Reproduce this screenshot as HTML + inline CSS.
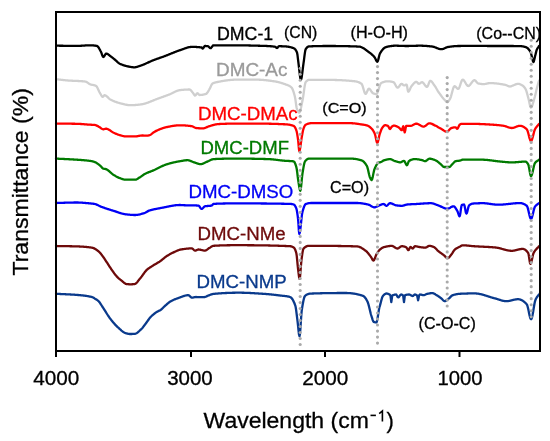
<!DOCTYPE html>
<html><head><meta charset="utf-8"><style>
html,body{margin:0;padding:0;background:#fff;width:550px;height:441px;overflow:hidden}
svg{display:block;will-change:transform;font-family:"Liberation Sans",sans-serif}
</style></head><body>
<svg width="550" height="441" viewBox="0 0 550 441">
<rect width="550" height="441" fill="#fff"/>
<polyline points="57.00,45.70 57.50,45.71 58.00,45.71 58.50,45.72 59.00,45.72 59.50,45.73 60.00,45.73 60.50,45.74 61.00,45.75 61.50,45.75 62.00,45.76 62.50,45.77 63.00,45.77 63.50,45.78 64.00,45.79 64.50,45.79 65.00,45.80 65.50,45.81 66.00,45.81 66.50,45.82 67.00,45.83 67.50,45.83 68.00,45.84 68.50,45.84 69.00,45.85 69.50,45.85 70.00,45.86 70.50,45.86 71.00,45.87 71.50,45.87 72.00,45.88 72.50,45.88 73.00,45.89 73.50,45.89 74.00,45.89 74.50,45.89 75.00,45.90 75.50,45.90 76.00,45.90 76.50,45.90 77.00,45.90 77.50,45.90 78.00,45.89 78.50,45.88 79.00,45.86 79.50,45.84 80.00,45.82 80.50,45.79 81.00,45.76 81.50,45.73 82.00,45.70 82.50,45.67 83.00,45.63 83.50,45.60 84.00,45.57 84.50,45.53 85.00,45.50 85.50,45.47 86.00,45.44 86.50,45.41 87.00,45.38 87.50,45.36 88.00,45.34 88.50,45.32 89.00,45.31 89.50,45.30 90.00,45.30 90.49,45.30 90.97,45.31 91.46,45.33 91.94,45.35 92.43,45.38 92.91,45.41 93.40,45.45 93.89,45.49 94.37,45.55 94.86,45.60 95.34,45.67 95.83,45.74 96.31,45.82 96.80,45.90 97.27,46.09 97.73,46.47 98.20,47.01 98.67,47.69 99.13,48.46 99.60,49.30 100.07,50.17 100.53,51.05 101.00,51.90 101.46,52.95 101.92,54.28 102.38,55.60 102.84,56.60 103.30,57.00 103.78,56.75 104.27,56.12 104.75,55.30 105.23,54.48 105.72,53.85 106.20,53.60 106.67,53.65 107.13,53.81 107.60,54.04 108.07,54.33 108.53,54.67 109.00,55.03 109.47,55.40 109.93,55.76 110.40,56.10 110.88,56.43 111.36,56.79 111.83,57.16 112.31,57.54 112.79,57.93 113.27,58.32 113.74,58.72 114.22,59.11 114.70,59.50 115.16,59.89 115.63,60.30 116.09,60.72 116.55,61.15 117.02,61.58 117.48,62.01 117.95,62.41 118.41,62.79 118.87,63.14 119.34,63.44 119.80,63.70 120.27,63.93 120.75,64.15 121.22,64.36 121.70,64.56 122.17,64.76 122.65,64.94 123.12,65.11 123.60,65.28 124.08,65.43 124.55,65.58 125.03,65.72 125.50,65.85 125.98,65.98 126.45,66.09 126.93,66.20 127.40,66.30 127.89,66.40 128.37,66.50 128.86,66.60 129.34,66.70 129.83,66.80 130.31,66.89 130.80,66.97 131.29,67.05 131.77,67.12 132.26,67.18 132.74,67.23 133.23,67.27 133.71,67.29 134.20,67.30 134.69,67.28 135.17,67.24 135.66,67.17 136.14,67.07 136.63,66.95 137.11,66.82 137.60,66.67 138.09,66.51 138.57,66.35 139.06,66.17 139.54,66.00 140.03,65.83 140.51,65.66 141.00,65.50 141.50,65.34 141.99,65.16 142.49,64.98 142.98,64.79 143.48,64.59 143.97,64.39 144.47,64.17 144.97,63.96 145.46,63.74 145.96,63.51 146.45,63.29 146.95,63.06 147.45,62.83 147.94,62.59 148.44,62.36 148.93,62.13 149.43,61.90 149.93,61.67 150.42,61.45 150.92,61.23 151.41,61.01 151.91,60.80 152.40,60.60 152.90,60.40 153.40,60.21 153.89,60.02 154.39,59.83 154.88,59.64 155.38,59.46 155.88,59.28 156.37,59.10 156.87,58.92 157.36,58.75 157.86,58.57 158.35,58.40 158.85,58.22 159.35,58.05 159.84,57.88 160.34,57.70 160.83,57.53 161.33,57.35 161.83,57.18 162.32,57.00 162.82,56.83 163.31,56.65 163.81,56.47 164.30,56.28 164.80,56.10 165.29,55.92 165.78,55.73 166.27,55.54 166.76,55.35 167.25,55.15 167.74,54.96 168.23,54.76 168.72,54.56 169.21,54.36 169.70,54.16 170.19,53.96 170.68,53.76 171.17,53.56 171.66,53.35 172.15,53.15 172.65,52.95 173.14,52.75 173.63,52.56 174.12,52.36 174.61,52.16 175.10,51.97 175.59,51.78 176.08,51.59 176.57,51.41 177.06,51.22 177.55,51.04 178.04,50.87 178.53,50.69 179.02,50.53 179.51,50.36 180.00,50.20 180.49,50.04 180.98,49.87 181.47,49.69 181.97,49.51 182.46,49.33 182.95,49.15 183.44,48.96 183.93,48.78 184.43,48.60 184.92,48.42 185.41,48.24 185.90,48.07 186.39,47.91 186.88,47.76 187.38,47.61 187.87,47.47 188.36,47.35 188.85,47.24 189.34,47.14 189.83,47.06 190.33,46.99 190.82,46.94 191.31,46.91 191.80,46.90 192.29,46.90 192.78,46.90 193.27,46.91 193.76,46.92 194.25,46.92 194.74,46.94 195.23,46.95 195.72,46.97 196.21,46.99 196.70,47.02 197.19,47.04 197.68,47.08 198.17,47.11 198.66,47.15 199.15,47.20 199.64,47.25 200.13,47.30 200.62,47.36 201.11,47.43 201.60,47.50 201.97,47.81 202.33,48.33 202.70,48.60 203.14,48.33 203.58,47.68 204.02,46.92 204.46,46.27 204.90,46.00 205.34,46.00 205.79,46.02 206.23,46.04 206.67,46.07 207.11,46.10 207.56,46.15 208.00,46.20 208.48,46.45 208.96,46.95 209.44,47.52 209.92,48.00 210.40,48.20 210.86,48.04 211.31,47.63 211.77,47.06 212.23,46.44 212.69,45.87 213.14,45.46 213.60,45.30 214.10,45.30 214.60,45.30 215.09,45.30 215.59,45.30 216.09,45.30 216.59,45.30 217.08,45.30 217.58,45.30 218.08,45.30 218.58,45.30 219.07,45.30 219.57,45.30 220.07,45.30 220.57,45.30 221.07,45.30 221.56,45.30 222.06,45.30 222.56,45.30 223.06,45.30 223.55,45.30 224.05,45.30 224.55,45.30 225.05,45.30 225.55,45.30 226.04,45.30 226.54,45.30 227.04,45.30 227.54,45.30 228.03,45.30 228.53,45.30 229.03,45.30 229.53,45.30 230.03,45.30 230.52,45.30 231.02,45.30 231.52,45.30 232.02,45.30 232.51,45.30 233.01,45.30 233.51,45.30 234.01,45.30 234.50,45.30 235.00,45.30 235.50,45.30 236.00,45.30 236.49,45.30 236.99,45.30 237.48,45.30 237.98,45.31 238.47,45.31 238.97,45.31 239.46,45.32 239.96,45.32 240.45,45.33 240.95,45.33 241.45,45.34 241.94,45.35 242.44,45.35 242.93,45.36 243.43,45.37 243.92,45.38 244.42,45.39 244.91,45.39 245.41,45.40 245.90,45.41 246.40,45.42 246.90,45.43 247.39,45.44 247.89,45.45 248.38,45.47 248.88,45.48 249.37,45.49 249.87,45.50 250.36,45.51 250.86,45.53 251.35,45.54 251.85,45.55 252.35,45.56 252.84,45.58 253.34,45.59 253.83,45.60 254.33,45.62 254.82,45.63 255.32,45.64 255.81,45.66 256.31,45.67 256.80,45.69 257.30,45.70 257.79,45.71 258.28,45.73 258.78,45.74 259.27,45.75 259.76,45.76 260.25,45.78 260.74,45.79 261.23,45.80 261.73,45.82 262.22,45.83 262.71,45.84 263.20,45.86 263.69,45.87 264.18,45.89 264.68,45.91 265.17,45.93 265.66,45.95 266.15,45.97 266.64,45.99 267.13,46.01 267.62,46.04 268.12,46.07 268.61,46.10 269.10,46.13 269.59,46.16 270.08,46.20 270.57,46.23 271.07,46.27 271.56,46.32 272.05,46.36 272.54,46.41 273.03,46.46 273.52,46.52 274.02,46.58 274.51,46.64 275.00,46.70 275.50,46.94 276.00,47.38 276.50,47.81 277.00,48.00 277.50,47.72 278.00,47.10 278.50,46.48 279.00,46.20 279.50,46.20 280.00,46.21 280.50,46.22 281.00,46.23 281.50,46.24 282.00,46.26 282.50,46.28 283.00,46.30 283.50,46.32 284.00,46.35 284.50,46.37 285.00,46.40 285.48,46.43 285.97,46.47 286.45,46.51 286.93,46.56 287.42,46.61 287.90,46.68 288.38,46.75 288.87,46.83 289.35,46.92 289.83,47.02 290.32,47.13 290.80,47.25 291.28,47.38 291.77,47.52 292.25,47.67 292.73,47.84 293.22,48.01 293.70,48.20 294.17,48.44 294.64,48.78 295.11,49.24 295.59,49.83 296.06,50.56 296.53,51.45 297.00,52.50 297.50,55.08 298.00,59.28 298.50,63.40 298.98,67.26 299.46,71.57 299.94,75.58 300.42,78.55 300.90,79.70 301.33,78.88 301.77,76.70 302.20,73.62 302.63,70.08 303.07,66.52 303.50,63.40 303.94,60.24 304.38,56.72 304.82,53.36 305.26,50.67 305.70,49.20 306.17,48.50 306.64,47.89 307.11,47.39 307.59,46.98 308.06,46.68 308.53,46.48 309.00,46.40 309.49,46.38 309.98,46.35 310.47,46.33 310.96,46.31 311.45,46.29 311.94,46.27 312.43,46.25 312.92,46.23 313.41,46.21 313.90,46.20 314.39,46.18 314.88,46.17 315.37,46.15 315.86,46.14 316.35,46.13 316.84,46.11 317.33,46.10 317.82,46.09 318.31,46.08 318.80,46.07 319.29,46.07 319.78,46.06 320.27,46.05 320.76,46.04 321.25,46.04 321.74,46.03 322.23,46.03 322.72,46.02 323.21,46.02 323.70,46.02 324.19,46.01 324.68,46.01 325.17,46.01 325.66,46.00 326.15,46.00 326.64,46.00 327.13,46.00 327.62,46.00 328.11,46.00 328.60,46.00 329.10,46.00 329.60,46.00 330.10,46.00 330.59,46.00 331.09,46.00 331.59,46.00 332.09,46.01 332.59,46.01 333.09,46.01 333.58,46.01 334.08,46.01 334.58,46.02 335.08,46.02 335.58,46.02 336.08,46.03 336.57,46.03 337.07,46.04 337.57,46.04 338.07,46.05 338.57,46.05 339.07,46.06 339.56,46.06 340.06,46.07 340.56,46.08 341.06,46.08 341.56,46.09 342.06,46.10 342.55,46.11 343.05,46.11 343.55,46.12 344.05,46.13 344.55,46.14 345.05,46.15 345.54,46.16 346.04,46.17 346.54,46.18 347.04,46.20 347.54,46.21 348.04,46.22 348.53,46.23 349.03,46.25 349.53,46.26 350.03,46.27 350.53,46.29 351.03,46.30 351.52,46.32 352.02,46.33 352.52,46.35 353.02,46.36 353.52,46.38 354.02,46.40 354.51,46.42 355.01,46.44 355.51,46.45 356.01,46.47 356.51,46.49 357.01,46.51 357.50,46.53 358.00,46.56 358.50,46.58 359.00,46.60 359.50,46.64 360.00,46.73 360.50,46.85 361.00,47.01 361.50,47.21 362.00,47.43 362.50,47.68 363.00,47.96 363.50,48.25 364.00,48.57 364.50,48.90 365.00,49.25 365.50,49.61 366.00,49.98 366.50,50.35 367.00,50.72 367.50,51.10 368.00,51.47 368.50,51.84 369.00,52.20 369.50,52.56 370.00,52.93 370.50,53.32 371.00,53.72 371.50,54.15 372.00,54.59 372.50,55.06 373.00,55.55 373.50,56.07 374.00,56.62 374.50,57.20 374.97,57.92 375.43,58.86 375.90,59.87 376.37,60.78 376.83,61.44 377.30,61.70 377.75,61.19 378.20,59.89 378.65,58.13 379.10,56.24 379.55,54.55 380.00,53.40 380.50,52.56 381.00,51.77 381.50,51.04 382.00,50.35 382.50,49.73 383.00,49.16 383.50,48.66 384.00,48.21 384.50,47.84 385.00,47.53 385.50,47.30 386.00,47.11 386.50,46.95 387.00,46.81 387.50,46.68 388.00,46.57 388.50,46.47 389.00,46.38 389.50,46.30 390.00,46.22 390.50,46.14 391.00,46.07 391.50,45.99 392.00,45.93 392.50,45.86 393.00,45.81 393.50,45.76 394.00,45.73 394.50,45.71 395.00,45.70 395.49,45.70 395.98,45.71 396.48,45.71 396.97,45.72 397.46,45.73 397.95,45.75 398.44,45.76 398.93,45.78 399.43,45.79 399.92,45.81 400.41,45.83 400.90,45.85 401.39,45.87 401.88,45.89 402.38,45.91 402.87,45.92 403.36,45.94 403.85,45.95 404.34,45.97 404.83,45.98 405.32,45.99 405.82,45.99 406.31,46.00 406.80,46.00 407.29,46.00 407.78,46.00 408.27,45.99 408.76,45.98 409.24,45.97 409.73,45.96 410.22,45.95 410.71,45.94 411.20,45.92 411.69,45.91 412.18,45.89 412.67,45.87 413.16,45.86 413.64,45.84 414.13,45.83 414.62,45.81 415.11,45.79 415.60,45.78 416.09,45.76 416.58,45.75 417.07,45.74 417.56,45.73 418.04,45.72 418.53,45.71 419.02,45.70 419.51,45.70 420.00,45.70 420.50,45.70 421.00,45.71 421.50,45.72 422.00,45.73 422.50,45.74 423.00,45.76 423.50,45.78 424.00,45.81 424.50,45.84 425.00,45.87 425.50,45.90 426.00,45.93 426.50,45.97 427.00,46.01 427.50,46.05 428.00,46.10 428.50,46.14 429.00,46.19 429.50,46.24 430.00,46.29 430.50,46.34 431.00,46.39 431.50,46.44 432.00,46.50 432.49,46.57 432.99,46.67 433.48,46.80 433.98,46.95 434.47,47.11 434.97,47.29 435.46,47.48 435.96,47.68 436.45,47.88 436.95,48.08 437.44,48.27 437.94,48.46 438.43,48.63 438.93,48.79 439.42,48.93 439.92,49.04 440.41,49.13 440.91,49.18 441.40,49.20 441.87,49.17 442.34,49.10 442.81,48.98 443.29,48.82 443.76,48.64 444.23,48.44 444.70,48.23 445.17,48.01 445.64,47.79 446.11,47.58 446.59,47.39 447.06,47.23 447.53,47.09 448.00,47.00 448.48,46.93 448.96,46.86 449.45,46.79 449.93,46.72 450.41,46.65 450.89,46.59 451.37,46.53 451.85,46.47 452.34,46.41 452.82,46.36 453.30,46.31 453.78,46.27 454.26,46.22 454.75,46.18 455.23,46.15 455.71,46.11 456.19,46.08 456.67,46.06 457.15,46.04 457.64,46.02 458.12,46.01 458.60,46.00 459.10,45.99 459.59,45.99 460.09,45.98 460.59,45.98 461.08,45.97 461.58,45.97 462.08,45.96 462.58,45.96 463.07,45.95 463.57,45.95 464.07,45.94 464.56,45.94 465.06,45.94 465.56,45.93 466.05,45.93 466.55,45.93 467.05,45.92 467.55,45.92 468.04,45.92 468.54,45.92 469.04,45.91 469.53,45.91 470.03,45.91 470.53,45.91 471.02,45.91 471.52,45.90 472.02,45.90 472.52,45.90 473.01,45.90 473.51,45.90 474.01,45.90 474.50,45.90 475.00,45.90 475.49,45.90 475.98,45.90 476.48,45.90 476.97,45.90 477.46,45.90 477.95,45.91 478.44,45.91 478.94,45.91 479.43,45.91 479.92,45.92 480.41,45.92 480.90,45.92 481.39,45.93 481.89,45.93 482.38,45.94 482.87,45.94 483.36,45.94 483.85,45.95 484.35,45.95 484.84,45.96 485.33,45.96 485.82,45.96 486.31,45.97 486.81,45.97 487.30,45.98 487.79,45.98 488.28,45.98 488.77,45.99 489.26,45.99 489.76,45.99 490.25,45.99 490.74,46.00 491.23,46.00 491.72,46.00 492.22,46.00 492.71,46.00 493.20,46.00 493.69,46.00 494.19,46.00 494.68,46.00 495.18,46.00 495.67,46.00 496.16,46.00 496.66,46.00 497.15,46.00 497.65,46.00 498.14,46.00 498.64,46.00 499.13,46.00 499.62,46.00 500.12,46.00 500.61,46.00 501.11,46.00 501.60,46.00 502.09,46.00 502.59,46.00 503.08,46.00 503.58,46.00 504.07,46.00 504.56,46.00 505.06,46.00 505.55,46.00 506.05,46.00 506.54,46.00 507.04,46.00 507.53,46.00 508.02,46.00 508.52,46.00 509.01,46.00 509.51,46.00 510.00,46.00 510.49,46.00 510.98,46.00 511.47,46.00 511.96,46.01 512.45,46.01 512.95,46.01 513.44,46.02 513.93,46.03 514.42,46.03 514.91,46.04 515.40,46.05 515.89,46.06 516.38,46.07 516.87,46.08 517.36,46.09 517.85,46.11 518.35,46.12 518.84,46.13 519.33,46.15 519.82,46.17 520.31,46.18 520.80,46.20 521.27,46.22 521.75,46.26 522.22,46.32 522.69,46.38 523.16,46.46 523.64,46.56 524.11,46.66 524.58,46.78 525.05,46.91 525.53,47.05 526.00,47.20 526.46,47.39 526.92,47.65 527.38,47.97 527.84,48.37 528.30,48.84 528.76,49.38 529.22,49.98 529.68,50.65 530.14,51.39 530.60,52.20 531.02,53.33 531.45,54.96 531.88,56.76 532.30,58.40 532.67,59.89 533.03,61.35 533.40,62.00 533.83,61.37 534.25,59.82 534.67,57.89 535.10,56.10 535.52,54.42 535.95,52.62 536.38,50.96 536.80,49.70 537.26,48.76 537.72,47.99 538.18,47.33 538.64,46.69 539.10,46.00" fill="none" stroke="#000" stroke-width="2.3" stroke-linejoin="round" stroke-linecap="round"/>
<polyline points="56.00,79.20 56.50,79.25 57.00,79.31 57.50,79.37 58.00,79.42 58.50,79.48 59.00,79.54 59.50,79.60 60.00,79.66 60.50,79.72 61.00,79.78 61.50,79.83 62.00,79.89 62.50,79.95 63.00,80.01 63.50,80.06 64.00,80.12 64.50,80.17 65.00,80.22 65.50,80.27 66.00,80.32 66.50,80.37 67.00,80.41 67.50,80.46 68.00,80.50 68.50,80.54 69.00,80.58 69.50,80.61 70.00,80.64 70.50,80.67 71.00,80.70 71.50,80.72 72.00,80.74 72.50,80.77 73.00,80.79 73.50,80.81 74.00,80.83 74.50,80.85 75.00,80.86 75.50,80.88 76.00,80.90 76.50,80.92 77.00,80.94 77.50,80.96 78.00,80.99 78.50,81.01 79.00,81.03 79.50,81.06 80.00,81.09 80.50,81.12 81.00,81.15 81.50,81.19 82.00,81.23 82.50,81.27 83.00,81.32 83.50,81.37 84.00,81.42 84.50,81.47 85.00,81.53 85.50,81.60 86.00,81.72 86.50,81.94 87.00,82.24 87.50,82.58 88.00,82.94 88.50,83.31 89.00,83.66 89.50,83.96 90.00,84.20 90.50,84.38 91.00,84.52 91.50,84.65 92.00,84.76 92.50,84.86 93.00,84.96 93.50,85.06 94.00,85.18 94.50,85.31 95.00,85.47 95.50,85.67 96.00,85.90 96.47,86.28 96.93,86.91 97.40,87.72 97.87,88.67 98.33,89.70 98.80,90.76 99.27,91.78 99.73,92.71 100.20,93.50 100.63,94.20 101.07,94.96 101.50,95.69 101.93,96.31 102.37,96.74 102.80,96.90 103.22,96.63 103.65,96.05 104.08,95.47 104.50,95.20 104.99,95.26 105.48,95.45 105.97,95.73 106.47,96.09 106.96,96.50 107.45,96.96 107.94,97.44 108.43,97.93 108.93,98.39 109.42,98.82 109.91,99.20 110.40,99.50 110.90,99.76 111.40,100.01 111.90,100.26 112.40,100.50 112.90,100.73 113.40,100.95 113.90,101.17 114.40,101.37 114.90,101.58 115.40,101.77 115.90,101.95 116.40,102.13 116.90,102.30 117.40,102.46 117.90,102.62 118.40,102.76 118.90,102.90 119.40,103.03 119.89,103.17 120.39,103.30 120.88,103.44 121.38,103.57 121.88,103.70 122.37,103.84 122.87,103.96 123.36,104.09 123.86,104.21 124.35,104.33 124.85,104.45 125.35,104.55 125.84,104.66 126.34,104.75 126.83,104.84 127.33,104.92 127.83,104.99 128.32,105.05 128.82,105.10 129.31,105.14 129.81,105.17 130.30,105.19 130.80,105.20 131.29,105.20 131.77,105.19 132.26,105.18 132.74,105.16 133.23,105.14 133.71,105.11 134.20,105.08 134.69,105.05 135.17,105.01 135.66,104.98 136.14,104.93 136.63,104.89 137.11,104.84 137.60,104.79 138.09,104.74 138.57,104.69 139.06,104.63 139.54,104.57 140.03,104.52 140.51,104.46 141.00,104.40 141.50,104.33 142.00,104.25 142.50,104.16 143.00,104.06 143.50,103.95 144.00,103.83 144.50,103.70 145.00,103.56 145.50,103.41 146.00,103.26 146.50,103.09 147.00,102.92 147.50,102.75 148.00,102.57 148.50,102.38 149.00,102.19 149.50,102.00 150.00,101.80 150.50,101.60 151.00,101.39 151.50,101.19 152.00,100.98 152.50,100.77 153.00,100.57 153.50,100.36 154.00,100.15 154.50,99.95 155.00,99.75 155.50,99.55 156.00,99.35 156.50,99.15 157.00,98.96 157.50,98.78 158.00,98.60 158.50,98.42 159.00,98.25 159.50,98.07 160.00,97.89 160.50,97.71 161.00,97.53 161.50,97.35 162.00,97.17 162.50,96.99 163.00,96.81 163.50,96.63 164.00,96.45 164.50,96.27 165.00,96.08 165.50,95.90 166.00,95.72 166.50,95.53 167.00,95.34 167.50,95.15 168.00,94.97 168.50,94.78 169.00,94.59 169.50,94.39 170.00,94.20 170.50,94.00 171.00,93.78 171.50,93.55 172.00,93.31 172.50,93.06 173.00,92.81 173.50,92.56 174.00,92.30 174.50,92.05 175.00,91.80 175.50,91.56 176.00,91.33 176.50,91.11 177.00,90.90 177.50,90.71 178.00,90.54 178.50,90.39 179.00,90.27 179.50,90.17 180.00,90.10 180.48,90.05 180.96,90.00 181.44,89.95 181.92,89.90 182.40,89.86 182.88,89.82 183.36,89.78 183.84,89.74 184.32,89.70 184.80,89.67 185.28,89.64 185.76,89.61 186.24,89.59 186.72,89.56 187.20,89.55 187.68,89.53 188.16,89.52 188.64,89.51 189.12,89.50 189.60,89.50 190.07,89.62 190.54,89.94 191.01,90.41 191.49,90.98 191.96,91.60 192.43,92.23 192.90,92.80 193.34,93.41 193.78,94.14 194.22,94.85 194.66,95.39 195.10,95.60 195.54,95.35 195.98,94.76 196.42,94.04 196.86,93.45 197.30,93.20 197.74,93.39 198.18,93.83 198.62,94.37 199.06,94.81 199.50,95.00 200.00,94.99 200.50,94.97 201.00,94.94 201.50,94.89 202.00,94.83 202.50,94.76 203.00,94.67 203.50,94.57 204.00,94.46 204.50,94.34 205.00,94.20 205.50,94.06 206.00,93.90 206.47,93.63 206.94,93.17 207.41,92.55 207.89,91.83 208.36,91.05 208.83,90.26 209.30,89.50 209.76,88.68 210.21,87.71 210.67,86.67 211.13,85.65 211.59,84.74 212.04,84.03 212.50,83.60 213.00,83.33 213.50,83.10 214.00,82.90 214.50,82.72 215.00,82.56 215.50,82.43 216.00,82.31 216.50,82.20 217.00,82.09 217.50,82.00 218.00,81.90 218.50,81.80 219.00,81.71 219.50,81.61 220.00,81.52 220.50,81.42 221.00,81.33 221.50,81.24 222.00,81.15 222.50,81.06 223.00,80.97 223.50,80.89 224.00,80.80 224.50,80.72 225.00,80.64 225.50,80.56 226.00,80.49 226.50,80.41 227.00,80.34 227.50,80.28 228.00,80.21 228.50,80.15 229.00,80.09 229.50,80.04 230.00,79.99 230.50,79.94 231.00,79.90 231.50,79.86 232.00,79.82 232.50,79.79 233.00,79.76 233.50,79.74 234.00,79.72 234.50,79.71 235.00,79.70 235.50,79.70 236.00,79.70 236.49,79.70 236.99,79.70 237.48,79.70 237.98,79.70 238.47,79.70 238.97,79.70 239.46,79.70 239.96,79.70 240.45,79.70 240.95,79.70 241.45,79.70 241.94,79.70 242.44,79.70 242.93,79.70 243.43,79.70 243.92,79.70 244.42,79.70 244.91,79.70 245.41,79.70 245.90,79.70 246.40,79.70 246.90,79.70 247.39,79.70 247.89,79.70 248.38,79.70 248.88,79.70 249.37,79.70 249.87,79.70 250.36,79.70 250.86,79.70 251.35,79.70 251.85,79.70 252.35,79.70 252.84,79.70 253.34,79.70 253.83,79.70 254.33,79.70 254.82,79.70 255.32,79.70 255.81,79.70 256.31,79.70 256.80,79.70 257.30,79.70 257.80,79.70 258.29,79.71 258.79,79.72 259.29,79.73 259.79,79.75 260.28,79.77 260.78,79.79 261.28,79.82 261.77,79.85 262.27,79.89 262.77,79.92 263.27,79.96 263.76,80.00 264.26,80.05 264.76,80.10 265.25,80.15 265.75,80.20 266.25,80.25 266.75,80.31 267.24,80.37 267.74,80.43 268.24,80.49 268.73,80.55 269.23,80.62 269.73,80.68 270.23,80.75 270.72,80.82 271.22,80.89 271.72,80.96 272.21,81.03 272.71,81.10 273.21,81.18 273.71,81.25 274.20,81.33 274.70,81.40 275.19,81.48 275.68,81.56 276.17,81.65 276.66,81.75 277.15,81.85 277.64,81.96 278.13,82.08 278.62,82.20 279.11,82.33 279.60,82.46 280.10,82.60 280.59,82.74 281.08,82.88 281.57,83.04 282.06,83.19 282.55,83.35 283.04,83.51 283.53,83.68 284.02,83.85 284.51,84.02 285.00,84.20 285.50,84.38 286.00,84.55 286.50,84.72 287.00,84.90 287.50,85.09 288.00,85.29 288.50,85.51 289.00,85.76 289.50,86.03 290.00,86.33 290.50,86.68 291.00,87.07 291.50,87.50 291.97,88.08 292.44,88.95 292.91,90.05 293.39,91.36 293.86,92.85 294.33,94.47 294.80,96.20 295.24,98.45 295.68,101.49 296.12,104.72 296.56,107.53 297.00,109.30 297.44,110.32 297.88,111.22 298.32,111.94 298.76,112.43 299.20,112.60 299.67,112.19 300.14,111.08 300.61,109.43 301.09,107.39 301.56,105.13 302.03,102.81 302.50,100.60 302.96,98.14 303.41,95.07 303.87,91.72 304.33,88.42 304.79,85.49 305.24,83.28 305.70,82.10 306.17,81.56 306.64,81.09 307.11,80.68 307.59,80.35 308.06,80.11 308.53,79.95 309.00,79.90 309.49,79.90 309.98,79.90 310.47,79.90 310.96,79.90 311.45,79.90 311.94,79.90 312.43,79.90 312.92,79.90 313.41,79.90 313.90,79.90 314.39,79.90 314.88,79.90 315.37,79.90 315.86,79.90 316.35,79.90 316.84,79.90 317.33,79.90 317.82,79.90 318.31,79.90 318.80,79.90 319.29,79.90 319.78,79.90 320.27,79.90 320.76,79.90 321.25,79.90 321.74,79.90 322.23,79.90 322.72,79.90 323.21,79.90 323.70,79.90 324.19,79.90 324.68,79.90 325.17,79.90 325.66,79.90 326.15,79.90 326.64,79.90 327.13,79.90 327.62,79.90 328.11,79.90 328.60,79.90 329.10,79.90 329.60,79.90 330.09,79.90 330.59,79.91 331.09,79.91 331.59,79.92 332.09,79.92 332.58,79.93 333.08,79.94 333.58,79.95 334.08,79.96 334.58,79.97 335.08,79.98 335.57,79.99 336.07,80.01 336.57,80.02 337.07,80.04 337.57,80.05 338.06,80.07 338.56,80.09 339.06,80.11 339.56,80.13 340.06,80.15 340.55,80.18 341.05,80.20 341.55,80.22 342.05,80.25 342.55,80.28 343.05,80.30 343.54,80.33 344.04,80.36 344.54,80.40 345.04,80.43 345.54,80.46 346.03,80.50 346.53,80.53 347.03,80.57 347.53,80.60 348.03,80.64 348.52,80.68 349.02,80.72 349.52,80.77 350.02,80.81 350.52,80.85 351.02,80.90 351.51,80.94 352.01,80.99 352.51,81.04 353.01,81.09 353.51,81.14 354.00,81.19 354.50,81.25 355.00,81.30 355.50,81.36 356.00,81.45 356.50,81.55 357.00,81.67 357.50,81.81 358.00,81.98 358.50,82.16 359.00,82.37 359.50,82.61 360.00,82.87 360.50,83.15 361.00,83.46 361.50,83.80 361.96,84.40 362.41,85.46 362.87,86.85 363.32,88.41 363.78,90.01 364.23,91.50 364.69,92.74 365.14,93.59 365.60,93.90 366.07,93.61 366.54,92.87 367.01,91.85 367.49,90.75 367.96,89.73 368.43,88.99 368.90,88.70 369.36,88.84 369.81,89.20 370.27,89.74 370.72,90.38 371.18,91.08 371.63,91.77 372.09,92.40 372.54,92.89 373.00,93.20 373.47,93.40 373.94,93.58 374.41,93.75 374.89,93.89 375.36,94.00 375.83,94.07 376.30,94.10 376.79,93.81 377.28,93.02 377.77,91.85 378.26,90.42 378.75,88.85 379.24,87.25 379.73,85.75 380.22,84.46 380.71,83.50 381.20,83.00 381.70,82.76 382.20,82.54 382.70,82.34 383.20,82.15 383.70,81.98 384.20,81.82 384.70,81.69 385.20,81.57 385.70,81.48 386.20,81.40 386.70,81.34 387.20,81.31 387.70,81.30 388.18,81.31 388.67,81.33 389.15,81.36 389.63,81.41 390.12,81.47 390.60,81.54 391.08,81.62 391.57,81.72 392.05,81.82 392.53,81.94 393.02,82.06 393.50,82.20 393.96,82.49 394.41,83.05 394.87,83.80 395.32,84.66 395.78,85.54 396.23,86.36 396.69,87.05 397.14,87.52 397.60,87.70 398.10,87.53 398.60,87.09 399.10,86.47 399.60,85.75 400.10,85.03 400.60,84.41 401.10,83.97 401.60,83.80 402.10,83.97 402.60,84.36 403.10,84.84 403.60,85.23 404.10,85.40 404.60,85.32 405.10,85.12 405.60,84.88 406.10,84.68 406.60,84.60 407.00,85.71 407.40,88.15 407.80,90.59 408.20,91.70 408.67,91.46 409.14,90.84 409.61,89.95 410.09,88.91 410.56,87.86 411.03,86.92 411.50,86.20 411.99,85.60 412.48,85.00 412.97,84.39 413.46,83.81 413.95,83.27 414.44,82.79 414.93,82.38 415.42,82.07 415.91,81.87 416.40,81.80 416.88,82.01 417.36,82.50 417.84,83.10 418.32,83.59 418.80,83.80 419.27,83.71 419.74,83.48 420.21,83.17 420.69,82.83 421.16,82.52 421.63,82.29 422.10,82.20 422.59,82.33 423.08,82.69 423.57,83.22 424.06,83.85 424.55,84.55 425.04,85.25 425.53,85.88 426.02,86.41 426.51,86.77 427.00,86.90 427.47,86.56 427.94,85.69 428.41,84.50 428.89,83.20 429.36,82.01 429.83,81.14 430.30,80.80 430.76,80.90 431.21,81.17 431.67,81.59 432.12,82.12 432.58,82.74 433.03,83.40 433.49,84.09 433.94,84.77 434.40,85.40 434.86,86.04 435.31,86.73 435.77,87.46 436.22,88.23 436.68,89.01 437.13,89.79 437.59,90.56 438.04,91.30 438.50,92.00 439.00,92.72 439.50,93.42 440.00,94.10 440.50,94.78 441.00,95.46 441.50,96.15 442.00,96.82 442.50,97.47 443.00,98.09 443.50,98.67 444.00,99.20 444.47,99.71 444.94,100.24 445.41,100.77 445.89,101.25 446.36,101.64 446.83,101.90 447.30,102.00 447.75,101.87 448.20,101.51 448.65,100.98 449.10,100.33 449.55,99.62 450.00,98.90 450.50,97.84 451.00,96.34 451.50,94.56 452.00,92.63 452.50,90.72 453.00,88.97 453.50,87.53 454.00,86.56 454.50,86.20 454.96,86.32 455.43,86.62 455.89,87.05 456.35,87.55 456.81,88.05 457.27,88.48 457.74,88.78 458.20,88.90 458.70,88.58 459.20,87.73 459.70,86.49 460.20,85.02 460.70,83.48 461.20,82.01 461.70,80.77 462.20,79.92 462.70,79.60 463.20,79.75 463.70,80.16 464.20,80.77 464.70,81.52 465.20,82.36 465.70,83.24 466.20,84.08 466.70,84.83 467.20,85.44 467.70,85.85 468.20,86.00 468.68,85.90 469.17,85.63 469.65,85.22 470.14,84.69 470.62,84.09 471.11,83.43 471.59,82.77 472.08,82.11 472.56,81.51 473.05,80.98 473.53,80.57 474.02,80.30 474.50,80.20 474.96,80.33 475.43,80.66 475.89,81.14 476.35,81.69 476.81,82.26 477.27,82.78 477.74,83.18 478.20,83.40 478.69,83.51 479.18,83.62 479.67,83.71 480.16,83.80 480.65,83.88 481.15,83.94 481.64,84.00 482.13,84.04 482.62,84.07 483.11,84.09 483.60,84.10 484.09,84.08 484.58,84.04 485.08,83.96 485.57,83.87 486.06,83.77 486.55,83.66 487.05,83.54 487.54,83.43 488.03,83.33 488.52,83.24 489.02,83.16 489.51,83.12 490.00,83.10 490.50,83.10 491.00,83.11 491.50,83.12 492.00,83.14 492.50,83.16 493.00,83.19 493.50,83.22 494.00,83.25 494.50,83.29 495.00,83.33 495.50,83.38 496.00,83.43 496.50,83.48 497.00,83.54 497.50,83.59 498.00,83.66 498.50,83.72 499.00,83.79 499.50,83.86 500.00,83.94 500.50,84.02 501.00,84.10 501.50,84.18 502.00,84.26 502.50,84.35 503.00,84.44 503.50,84.52 504.00,84.62 504.50,84.71 505.00,84.80 505.50,84.90 506.00,85.03 506.50,85.22 507.00,85.44 507.50,85.69 508.00,85.93 508.50,86.15 509.00,86.33 509.50,86.45 510.00,86.50 510.45,86.45 510.90,86.33 511.35,86.16 511.80,85.97 512.25,85.77 512.70,85.60 513.20,85.42 513.70,85.22 514.20,85.01 514.70,84.79 515.20,84.58 515.70,84.37 516.20,84.19 516.70,84.03 517.20,83.91 517.70,83.83 518.20,83.80 518.68,83.83 519.15,83.92 519.62,84.06 520.10,84.24 520.58,84.45 521.05,84.69 521.52,84.94 522.00,85.20 522.50,85.51 523.00,85.88 523.50,86.33 524.00,86.85 524.50,87.45 525.00,88.13 525.50,88.90 526.00,89.95 526.50,91.39 527.00,93.11 527.50,94.98 528.00,96.88 528.50,98.70 528.98,100.68 529.46,102.99 529.94,105.20 530.42,106.85 530.90,107.50 531.35,107.25 531.80,106.57 532.25,105.53 532.70,104.22 533.15,102.73 533.60,101.13 534.05,99.53 534.50,98.00 535.00,96.19 535.50,94.11 536.00,91.90 536.50,89.72 537.00,87.70 537.50,85.87 538.00,84.13 538.50,82.42 539.00,80.70" fill="none" stroke="#cfcfcf" stroke-width="2.3" stroke-linejoin="round" stroke-linecap="round"/>
<polyline points="56.00,123.60 56.50,123.60 56.99,123.61 57.49,123.61 57.98,123.62 58.48,123.62 58.97,123.63 59.47,123.63 59.96,123.63 60.46,123.64 60.95,123.64 61.45,123.64 61.94,123.65 62.44,123.65 62.93,123.65 63.43,123.66 63.92,123.66 64.42,123.66 64.91,123.67 65.41,123.67 65.90,123.67 66.40,123.68 66.90,123.68 67.39,123.69 67.89,123.69 68.38,123.69 68.88,123.70 69.37,123.70 69.87,123.71 70.36,123.71 70.86,123.72 71.35,123.72 71.85,123.73 72.34,123.73 72.84,123.74 73.33,123.75 73.83,123.75 74.32,123.76 74.82,123.77 75.31,123.78 75.81,123.78 76.30,123.79 76.80,123.80 77.29,123.81 77.78,123.83 78.27,123.84 78.76,123.87 79.24,123.89 79.73,123.92 80.22,123.95 80.71,123.98 81.20,124.02 81.69,124.05 82.18,124.09 82.67,124.13 83.16,124.17 83.64,124.21 84.13,124.25 84.62,124.30 85.11,124.34 85.60,124.38 86.09,124.42 86.58,124.46 87.07,124.50 87.56,124.54 88.04,124.57 88.53,124.61 89.02,124.64 89.51,124.67 90.00,124.70 90.48,124.72 90.96,124.74 91.43,124.76 91.91,124.78 92.39,124.79 92.87,124.81 93.34,124.84 93.82,124.86 94.30,124.90 94.79,124.96 95.28,125.07 95.77,125.22 96.26,125.40 96.75,125.61 97.25,125.85 97.74,126.10 98.23,126.37 98.72,126.64 99.21,126.92 99.70,127.20 100.14,127.49 100.58,127.84 101.02,128.21 101.46,128.54 101.90,128.80 102.37,129.03 102.83,129.22 103.30,129.30 103.75,129.26 104.20,129.14 104.65,129.00 105.10,128.86 105.55,128.74 106.00,128.70 106.49,128.73 106.97,128.83 107.46,128.98 107.95,129.18 108.44,129.42 108.92,129.69 109.41,130.00 109.90,130.32 110.39,130.65 110.88,131.00 111.36,131.34 111.85,131.67 112.34,131.99 112.83,132.29 113.31,132.56 113.80,132.80 114.28,133.01 114.75,133.22 115.23,133.43 115.71,133.64 116.18,133.84 116.66,134.04 117.14,134.23 117.62,134.41 118.09,134.59 118.57,134.76 119.05,134.92 119.52,135.06 120.00,135.20 120.47,135.33 120.95,135.47 121.42,135.61 121.90,135.74 122.38,135.87 122.85,135.99 123.33,136.11 123.80,136.20 124.28,136.29 124.75,136.35 125.23,136.39 125.70,136.40 126.20,136.40 126.70,136.40 127.20,136.40 127.70,136.40 128.20,136.40 128.70,136.40 129.20,136.40 129.70,136.40 130.20,136.40 130.70,136.40 131.20,136.40 131.70,136.40 132.20,136.40 132.70,136.40 133.20,136.40 133.70,136.40 134.20,136.40 134.70,136.40 135.20,136.40 135.67,136.39 136.15,136.36 136.62,136.31 137.09,136.24 137.57,136.17 138.04,136.08 138.51,135.99 138.99,135.91 139.46,135.82 139.93,135.73 140.41,135.66 140.88,135.59 141.35,135.54 141.83,135.51 142.30,135.50 142.78,135.51 143.26,135.52 143.74,135.54 144.22,135.57 144.70,135.60 145.18,135.63 145.66,135.66 146.14,135.68 146.62,135.69 147.10,135.70 147.58,135.67 148.06,135.59 148.54,135.48 149.02,135.34 149.50,135.20 149.98,135.01 150.46,134.76 150.94,134.44 151.42,134.09 151.90,133.71 152.38,133.31 152.86,132.92 153.34,132.54 153.82,132.20 154.30,131.90 154.78,131.64 155.25,131.38 155.73,131.13 156.20,130.89 156.68,130.65 157.15,130.42 157.62,130.20 158.10,129.99 158.57,129.78 159.05,129.58 159.53,129.39 160.00,129.20 160.48,129.02 160.95,128.83 161.43,128.66 161.91,128.48 162.38,128.31 162.86,128.14 163.34,127.98 163.82,127.83 164.29,127.68 164.77,127.54 165.25,127.42 165.72,127.30 166.20,127.20 166.69,127.10 167.19,127.00 167.68,126.90 168.17,126.80 168.66,126.70 169.16,126.60 169.65,126.51 170.14,126.41 170.64,126.32 171.13,126.23 171.62,126.14 172.11,126.06 172.61,125.98 173.10,125.90 173.59,125.82 174.09,125.75 174.58,125.69 175.07,125.62 175.56,125.57 176.06,125.51 176.55,125.47 177.04,125.42 177.54,125.39 178.03,125.36 178.52,125.33 179.01,125.31 179.51,125.30 180.00,125.30 180.49,125.30 180.98,125.31 181.47,125.32 181.97,125.33 182.46,125.34 182.95,125.36 183.44,125.38 183.93,125.41 184.43,125.44 184.92,125.47 185.41,125.50 185.90,125.54 186.39,125.58 186.88,125.62 187.38,125.67 187.87,125.72 188.36,125.77 188.85,125.82 189.34,125.88 189.83,125.94 190.33,126.00 190.82,126.06 191.31,126.13 191.80,126.20 192.29,126.31 192.78,126.49 193.27,126.72 193.76,126.98 194.24,127.25 194.73,127.51 195.22,127.73 195.71,127.90 196.20,128.00 196.70,128.05 197.20,128.11 197.70,128.15 198.20,128.20 198.70,128.24 199.20,128.27 199.70,128.31 200.20,128.33 200.70,128.36 201.20,128.38 201.70,128.39 202.20,128.40 202.70,128.40 203.17,128.38 203.64,128.31 204.11,128.21 204.59,128.07 205.06,127.91 205.53,127.73 206.00,127.53 206.47,127.33 206.94,127.12 207.41,126.91 207.89,126.71 208.36,126.52 208.83,126.35 209.30,126.20 209.78,126.06 210.27,125.92 210.75,125.77 211.23,125.62 211.72,125.48 212.20,125.33 212.68,125.18 213.17,125.04 213.65,124.90 214.13,124.77 214.62,124.65 215.10,124.53 215.58,124.43 216.07,124.34 216.55,124.26 217.03,124.19 217.52,124.14 218.00,124.10 218.50,124.07 219.00,124.05 219.50,124.02 220.00,123.99 220.50,123.97 221.00,123.95 221.50,123.92 222.00,123.90 222.50,123.88 223.00,123.86 223.50,123.84 224.00,123.82 224.50,123.80 225.00,123.78 225.50,123.77 226.00,123.75 226.50,123.73 227.00,123.72 227.50,123.71 228.00,123.69 228.50,123.68 229.00,123.67 229.50,123.66 230.00,123.65 230.50,123.64 231.00,123.63 231.50,123.63 232.00,123.62 232.50,123.62 233.00,123.61 233.50,123.61 234.00,123.60 234.50,123.60 235.00,123.60 235.50,123.60 236.00,123.60 236.49,123.60 236.99,123.60 237.48,123.60 237.98,123.60 238.47,123.60 238.97,123.60 239.46,123.60 239.96,123.60 240.45,123.60 240.95,123.60 241.45,123.60 241.94,123.60 242.44,123.60 242.93,123.60 243.43,123.60 243.92,123.60 244.42,123.60 244.91,123.60 245.41,123.60 245.90,123.60 246.40,123.60 246.90,123.60 247.39,123.60 247.89,123.60 248.38,123.60 248.88,123.60 249.37,123.60 249.87,123.60 250.36,123.60 250.86,123.60 251.35,123.60 251.85,123.60 252.35,123.60 252.84,123.60 253.34,123.60 253.83,123.60 254.33,123.60 254.82,123.60 255.32,123.60 255.81,123.60 256.31,123.60 256.80,123.60 257.30,123.60 257.79,123.60 258.29,123.60 258.78,123.60 259.28,123.60 259.77,123.61 260.27,123.61 260.76,123.61 261.26,123.61 261.75,123.62 262.25,123.62 262.74,123.63 263.24,123.63 263.73,123.64 264.23,123.64 264.72,123.65 265.21,123.66 265.71,123.66 266.20,123.67 266.70,123.68 267.19,123.69 267.69,123.70 268.18,123.71 268.68,123.72 269.17,123.73 269.67,123.74 270.16,123.75 270.66,123.76 271.15,123.77 271.64,123.79 272.14,123.80 272.63,123.81 273.13,123.83 273.62,123.84 274.12,123.86 274.61,123.87 275.11,123.89 275.60,123.90 276.10,123.92 276.59,123.94 277.09,123.95 277.58,123.97 278.07,123.99 278.57,124.01 279.06,124.03 279.56,124.05 280.05,124.07 280.55,124.09 281.04,124.11 281.54,124.13 282.03,124.16 282.53,124.18 283.02,124.20 283.52,124.23 284.01,124.25 284.51,124.27 285.00,124.30 285.48,124.33 285.97,124.36 286.45,124.39 286.93,124.43 287.42,124.48 287.90,124.53 288.38,124.59 288.87,124.66 289.35,124.74 289.83,124.82 290.32,124.91 290.80,125.02 291.28,125.14 291.77,125.26 292.25,125.40 292.73,125.55 293.22,125.72 293.70,125.90 294.13,126.18 294.57,126.66 295.00,127.32 295.43,128.15 295.87,129.12 296.30,130.20 296.75,131.81 297.20,134.13 297.65,136.93 298.10,140.00 298.50,144.09 298.90,148.77 299.30,151.00 299.75,150.18 300.20,148.05 300.65,145.06 301.10,141.70 301.55,138.42 302.00,135.70 302.50,133.06 303.00,130.55 303.50,128.70 303.94,127.56 304.38,126.55 304.82,125.71 305.26,125.08 305.70,124.70 306.20,124.45 306.70,124.21 307.20,124.01 307.70,123.82 308.20,123.66 308.70,123.52 309.20,123.41 309.70,123.32 310.20,123.25 310.70,123.21 311.20,123.20 311.70,123.20 312.19,123.20 312.69,123.20 313.19,123.20 313.69,123.20 314.18,123.20 314.68,123.20 315.18,123.20 315.68,123.20 316.17,123.20 316.67,123.20 317.17,123.20 317.67,123.20 318.16,123.20 318.66,123.20 319.16,123.20 319.66,123.20 320.15,123.20 320.65,123.20 321.15,123.20 321.65,123.20 322.14,123.20 322.64,123.20 323.14,123.20 323.64,123.20 324.13,123.20 324.63,123.20 325.13,123.20 325.63,123.20 326.12,123.20 326.62,123.20 327.12,123.20 327.62,123.20 328.11,123.20 328.61,123.20 329.11,123.20 329.61,123.20 330.10,123.20 330.60,123.20 331.10,123.20 331.60,123.20 332.09,123.20 332.59,123.20 333.09,123.20 333.59,123.20 334.08,123.20 334.58,123.20 335.08,123.20 335.58,123.20 336.07,123.20 336.57,123.20 337.07,123.20 337.57,123.20 338.06,123.20 338.56,123.20 339.06,123.20 339.56,123.20 340.05,123.20 340.55,123.20 341.05,123.20 341.55,123.20 342.04,123.20 342.54,123.20 343.04,123.20 343.54,123.20 344.03,123.20 344.53,123.20 345.03,123.20 345.53,123.20 346.02,123.20 346.52,123.20 347.02,123.20 347.52,123.20 348.01,123.20 348.51,123.20 349.01,123.20 349.51,123.20 350.00,123.20 350.50,123.20 351.00,123.20 351.50,123.22 352.00,123.23 352.50,123.26 353.00,123.29 353.50,123.33 354.00,123.38 354.50,123.43 355.00,123.48 355.50,123.54 356.00,123.60 356.50,123.67 357.00,123.74 357.50,123.81 358.00,123.88 358.50,123.96 359.00,124.03 359.50,124.11 360.00,124.19 360.50,124.27 361.00,124.35 361.50,124.42 362.00,124.50 362.49,124.57 362.98,124.65 363.47,124.72 363.96,124.80 364.45,124.89 364.95,124.98 365.44,125.08 365.93,125.19 366.42,125.31 366.91,125.45 367.40,125.60 367.88,125.78 368.36,126.01 368.84,126.29 369.32,126.61 369.80,126.98 370.28,127.38 370.76,127.81 371.24,128.28 371.72,128.78 372.20,129.30 372.65,129.85 373.10,130.51 373.55,131.26 374.00,132.11 374.45,133.06 374.90,134.10 375.38,135.76 375.86,138.03 376.34,140.36 376.82,142.17 377.30,142.90 377.78,142.21 378.26,140.47 378.74,138.21 379.22,135.91 379.70,134.10 380.15,132.79 380.60,131.51 381.05,130.30 381.50,129.22 381.95,128.30 382.40,127.60 382.85,127.02 383.30,126.46 383.75,125.96 384.20,125.56 384.65,125.30 385.10,125.20 385.57,125.22 386.03,125.29 386.50,125.39 386.97,125.53 387.43,125.70 387.90,125.90 388.40,126.51 388.90,127.56 389.40,128.56 389.90,129.00 390.40,128.69 390.90,127.98 391.40,127.18 391.90,126.60 392.38,126.25 392.85,125.93 393.32,125.69 393.80,125.60 394.26,125.62 394.73,125.70 395.19,125.81 395.65,125.96 396.12,126.14 396.58,126.35 397.05,126.57 397.51,126.82 397.97,127.07 398.44,127.34 398.90,127.60 399.38,127.98 399.87,128.52 400.35,129.11 400.83,129.65 401.32,130.05 401.80,130.20 402.30,129.16 402.80,127.24 403.30,126.20 403.77,127.81 404.23,130.79 404.70,132.40 405.20,130.71 405.70,127.59 406.20,125.90 406.68,125.90 407.16,125.90 407.63,125.90 408.11,125.90 408.59,125.90 409.07,125.90 409.54,125.90 410.02,125.90 410.50,125.90 410.99,125.86 411.48,125.74 411.98,125.56 412.47,125.33 412.96,125.07 413.45,124.80 413.94,124.53 414.43,124.27 414.92,124.04 415.42,123.86 415.91,123.74 416.40,123.70 416.88,123.74 417.36,123.84 417.84,124.00 418.32,124.21 418.80,124.45 419.28,124.72 419.76,125.01 420.24,125.29 420.72,125.58 421.20,125.85 421.68,126.09 422.16,126.30 422.64,126.46 423.12,126.56 423.60,126.60 424.09,126.54 424.58,126.36 425.08,126.08 425.57,125.74 426.06,125.36 426.55,124.95 427.04,124.54 427.53,124.16 428.02,123.82 428.52,123.54 429.01,123.36 429.50,123.30 429.98,123.33 430.47,123.41 430.95,123.53 431.43,123.70 431.92,123.89 432.40,124.12 432.88,124.36 433.37,124.61 433.85,124.86 434.33,125.12 434.82,125.37 435.30,125.60 435.78,125.83 436.27,126.08 436.75,126.33 437.23,126.60 437.72,126.88 438.20,127.15 438.68,127.44 439.17,127.72 439.65,128.00 440.13,128.27 440.62,128.54 441.10,128.80 441.58,129.07 442.07,129.37 442.55,129.68 443.03,130.00 443.52,130.32 444.00,130.63 444.48,130.92 444.97,131.17 445.45,131.39 445.93,131.56 446.42,131.66 446.90,131.70 447.39,131.59 447.88,131.30 448.37,130.87 448.86,130.34 449.34,129.78 449.83,129.23 450.32,128.73 450.81,128.34 451.30,128.10 451.78,127.96 452.26,127.82 452.73,127.70 453.21,127.59 453.69,127.49 454.17,127.41 454.64,127.35 455.12,127.31 455.60,127.30 456.10,127.69 456.60,128.41 457.10,128.80 457.58,128.51 458.07,127.78 458.55,126.80 459.03,125.77 459.52,124.91 460.00,124.40 460.47,124.16 460.93,123.97 461.40,123.90 461.89,123.90 462.38,123.90 462.86,123.90 463.35,123.90 463.84,123.90 464.33,123.90 464.82,123.90 465.30,123.90 465.79,123.90 466.28,123.90 466.77,123.90 467.26,123.90 467.74,123.90 468.23,123.90 468.72,123.90 469.21,123.90 469.70,123.90 470.18,123.90 470.67,123.90 471.16,123.90 471.65,123.90 472.14,123.90 472.62,123.90 473.11,123.90 473.60,123.90 474.09,123.90 474.58,123.90 475.07,123.91 475.56,123.91 476.05,123.92 476.54,123.93 477.03,123.94 477.52,123.95 478.01,123.96 478.50,123.97 478.99,123.99 479.48,124.00 479.97,124.02 480.46,124.04 480.95,124.06 481.44,124.08 481.93,124.10 482.42,124.12 482.91,124.14 483.39,124.16 483.88,124.19 484.37,124.21 484.86,124.24 485.35,124.26 485.84,124.29 486.33,124.32 486.82,124.35 487.31,124.37 487.80,124.40 488.29,124.43 488.78,124.46 489.27,124.49 489.76,124.52 490.25,124.55 490.74,124.58 491.23,124.61 491.72,124.64 492.21,124.67 492.70,124.70 493.20,124.73 493.69,124.76 494.19,124.80 494.68,124.83 495.18,124.87 495.67,124.91 496.17,124.95 496.66,124.99 497.16,125.04 497.65,125.08 498.15,125.13 498.65,125.18 499.14,125.23 499.64,125.29 500.13,125.34 500.63,125.40 501.12,125.46 501.62,125.52 502.11,125.59 502.61,125.66 503.10,125.73 503.60,125.80 504.08,125.89 504.56,126.00 505.05,126.13 505.53,126.28 506.01,126.44 506.49,126.61 506.98,126.79 507.46,126.97 507.94,127.14 508.42,127.31 508.91,127.47 509.39,127.62 509.87,127.74 510.35,127.85 510.84,127.93 511.32,127.98 511.80,128.00 512.28,127.98 512.76,127.92 513.25,127.82 513.73,127.69 514.21,127.54 514.69,127.37 515.18,127.19 515.66,127.00 516.14,126.80 516.62,126.61 517.11,126.43 517.59,126.26 518.07,126.11 518.55,125.98 519.04,125.88 519.52,125.82 520.00,125.80 520.49,125.82 520.97,125.88 521.46,125.99 521.94,126.13 522.43,126.31 522.91,126.52 523.40,126.77 523.89,127.05 524.37,127.36 524.86,127.69 525.34,128.06 525.83,128.45 526.31,128.86 526.80,129.30 527.27,130.04 527.73,131.31 528.20,132.93 528.67,134.75 529.13,136.60 529.60,138.33 530.07,139.76 530.53,140.74 531.00,141.10 531.50,140.69 532.00,139.60 532.50,138.02 533.00,136.13 533.50,134.12 534.00,132.19 534.50,130.52 535.00,129.30 535.50,128.43 536.00,127.67 536.50,126.98 537.00,126.35 537.50,125.75 538.00,125.16 538.50,124.55 539.00,123.90" fill="none" stroke="#ff0000" stroke-width="2.3" stroke-linejoin="round" stroke-linecap="round"/>
<polyline points="56.00,158.60 56.50,158.63 56.99,158.65 57.49,158.68 57.98,158.70 58.48,158.73 58.97,158.75 59.47,158.78 59.96,158.80 60.46,158.82 60.95,158.85 61.45,158.87 61.94,158.90 62.44,158.92 62.93,158.94 63.43,158.97 63.92,158.99 64.42,159.01 64.91,159.04 65.41,159.06 65.90,159.09 66.40,159.11 66.90,159.13 67.39,159.16 67.89,159.18 68.38,159.21 68.88,159.23 69.37,159.26 69.87,159.29 70.36,159.31 70.86,159.34 71.35,159.37 71.85,159.39 72.34,159.42 72.84,159.45 73.33,159.48 73.83,159.51 74.32,159.54 74.82,159.57 75.31,159.60 75.81,159.63 76.30,159.67 76.80,159.70 77.29,159.73 77.78,159.77 78.27,159.80 78.76,159.83 79.24,159.87 79.73,159.90 80.22,159.94 80.71,159.97 81.20,160.01 81.69,160.04 82.18,160.08 82.67,160.12 83.16,160.16 83.64,160.20 84.13,160.24 84.62,160.29 85.11,160.33 85.60,160.38 86.09,160.43 86.58,160.48 87.07,160.53 87.56,160.59 88.04,160.65 88.53,160.71 89.02,160.77 89.51,160.83 90.00,160.90 90.48,160.97 90.96,161.05 91.43,161.14 91.91,161.24 92.39,161.35 92.87,161.47 93.34,161.60 93.82,161.75 94.30,161.90 94.80,162.08 95.30,162.30 95.80,162.55 96.30,162.83 96.80,163.14 97.30,163.47 97.80,163.82 98.30,164.18 98.80,164.57 99.30,164.96 99.80,165.37 100.30,165.78 100.80,166.20 101.26,166.68 101.72,167.26 102.18,167.84 102.64,168.33 103.10,168.60 103.58,168.71 104.06,168.78 104.54,168.84 105.02,168.91 105.50,169.00 105.99,169.15 106.48,169.35 106.96,169.61 107.45,169.91 107.94,170.24 108.43,170.61 108.92,171.01 109.41,171.42 109.89,171.85 110.38,172.28 110.87,172.72 111.36,173.14 111.85,173.56 112.34,173.96 112.82,174.34 113.31,174.69 113.80,175.00 114.28,175.28 114.75,175.57 115.23,175.85 115.71,176.13 116.18,176.40 116.66,176.66 117.14,176.92 117.62,177.17 118.09,177.40 118.57,177.63 119.05,177.83 119.52,178.03 120.00,178.20 120.47,178.37 120.95,178.54 121.42,178.71 121.90,178.88 122.38,179.04 122.85,179.20 123.33,179.34 123.80,179.46 124.28,179.56 124.75,179.63 125.23,179.68 125.70,179.70 126.20,179.70 126.70,179.70 127.20,179.70 127.70,179.70 128.20,179.70 128.70,179.70 129.20,179.70 129.70,179.70 130.20,179.70 130.70,179.70 131.20,179.70 131.70,179.70 132.20,179.70 132.70,179.70 133.20,179.70 133.70,179.70 134.20,179.70 134.70,179.70 135.20,179.70 135.68,179.66 136.16,179.53 136.64,179.34 137.12,179.09 137.60,178.80 138.08,178.48 138.56,178.15 139.04,177.82 139.52,177.50 140.00,177.20 140.48,176.91 140.96,176.59 141.44,176.26 141.92,175.91 142.40,175.57 142.88,175.22 143.36,174.89 143.84,174.57 144.32,174.27 144.80,174.00 145.30,173.74 145.80,173.49 146.30,173.26 146.80,173.03 147.30,172.81 147.80,172.60 148.30,172.39 148.80,172.19 149.30,171.99 149.80,171.80 150.30,171.60 150.80,171.41 151.30,171.22 151.80,171.03 152.30,170.83 152.80,170.63 153.30,170.43 153.80,170.22 154.30,170.00 154.80,169.78 155.29,169.55 155.79,169.31 156.28,169.07 156.78,168.83 157.28,168.58 157.77,168.33 158.27,168.08 158.76,167.83 159.26,167.57 159.75,167.32 160.25,167.07 160.75,166.82 161.24,166.57 161.74,166.33 162.23,166.10 162.73,165.87 163.22,165.65 163.72,165.43 164.22,165.22 164.71,165.03 165.21,164.84 165.70,164.66 166.20,164.50 166.69,164.34 167.19,164.19 167.68,164.04 168.17,163.90 168.66,163.75 169.16,163.61 169.65,163.48 170.14,163.34 170.64,163.21 171.13,163.08 171.62,162.95 172.11,162.83 172.61,162.71 173.10,162.59 173.59,162.47 174.09,162.36 174.58,162.25 175.07,162.14 175.56,162.04 176.06,161.93 176.55,161.83 177.04,161.74 177.54,161.64 178.03,161.55 178.52,161.46 179.01,161.37 179.51,161.28 180.00,161.20 180.50,161.11 181.00,161.03 181.50,160.94 182.00,160.85 182.50,160.76 183.00,160.67 183.50,160.58 184.00,160.50 184.50,160.43 185.00,160.37 185.50,160.31 186.00,160.26 186.50,160.23 187.00,160.21 187.50,160.20 188.00,160.22 188.50,160.29 189.00,160.40 189.50,160.55 190.00,160.72 190.50,160.91 191.00,161.11 191.50,161.32 192.00,161.54 192.50,161.75 193.00,161.95 193.50,162.14 194.00,162.30 194.50,162.46 195.00,162.63 195.50,162.81 196.00,162.99 196.50,163.18 197.00,163.36 197.50,163.53 198.00,163.68 198.50,163.82 199.00,163.94 199.50,164.02 200.00,164.08 200.50,164.10 200.98,164.08 201.46,164.02 201.94,163.92 202.43,163.79 202.91,163.63 203.39,163.44 203.87,163.24 204.35,163.02 204.83,162.79 205.31,162.55 205.79,162.31 206.27,162.07 206.76,161.83 207.24,161.61 207.72,161.39 208.20,161.20 208.69,161.00 209.18,160.77 209.67,160.53 210.16,160.29 210.65,160.05 211.15,159.81 211.64,159.60 212.13,159.41 212.62,159.26 213.11,159.15 213.60,159.10 214.10,159.07 214.60,159.05 215.09,159.03 215.59,159.00 216.09,158.98 216.59,158.96 217.08,158.94 217.58,158.92 218.08,158.90 218.58,158.88 219.07,158.86 219.57,158.84 220.07,158.83 220.57,158.81 221.07,158.79 221.56,158.78 222.06,158.77 222.56,158.75 223.06,158.74 223.55,158.73 224.05,158.72 224.55,158.71 225.05,158.70 225.55,158.69 226.04,158.68 226.54,158.67 227.04,158.66 227.54,158.65 228.03,158.65 228.53,158.64 229.03,158.63 229.53,158.63 230.03,158.62 230.52,158.62 231.02,158.62 231.52,158.61 232.02,158.61 232.51,158.61 233.01,158.60 233.51,158.60 234.01,158.60 234.50,158.60 235.00,158.60 235.50,158.60 236.00,158.60 236.49,158.60 236.99,158.60 237.48,158.60 237.98,158.60 238.47,158.60 238.97,158.61 239.46,158.61 239.96,158.61 240.45,158.61 240.95,158.62 241.45,158.62 241.94,158.62 242.44,158.62 242.93,158.63 243.43,158.63 243.92,158.64 244.42,158.64 244.91,158.64 245.41,158.65 245.90,158.65 246.40,158.66 246.90,158.67 247.39,158.67 247.89,158.68 248.38,158.68 248.88,158.69 249.37,158.70 249.87,158.70 250.36,158.71 250.86,158.72 251.35,158.72 251.85,158.73 252.35,158.74 252.84,158.75 253.34,158.76 253.83,158.76 254.33,158.77 254.82,158.78 255.32,158.79 255.81,158.80 256.31,158.81 256.80,158.82 257.30,158.83 257.80,158.84 258.29,158.85 258.79,158.86 259.28,158.87 259.78,158.88 260.27,158.89 260.77,158.91 261.26,158.92 261.76,158.93 262.25,158.94 262.75,158.95 263.25,158.97 263.74,158.98 264.24,158.99 264.73,159.00 265.23,159.02 265.72,159.03 266.22,159.04 266.71,159.06 267.21,159.07 267.70,159.09 268.20,159.10 268.69,159.12 269.19,159.14 269.68,159.16 270.18,159.19 270.67,159.23 271.16,159.26 271.66,159.30 272.15,159.35 272.65,159.39 273.14,159.44 273.64,159.49 274.13,159.55 274.62,159.60 275.12,159.66 275.61,159.72 276.11,159.78 276.60,159.84 277.09,159.90 277.59,159.97 278.08,160.03 278.58,160.09 279.07,160.15 279.56,160.22 280.06,160.28 280.55,160.34 281.05,160.40 281.54,160.45 282.04,160.51 282.53,160.56 283.02,160.62 283.52,160.67 284.01,160.71 284.51,160.76 285.00,160.80 285.48,160.84 285.97,160.87 286.45,160.89 286.93,160.92 287.42,160.94 287.90,160.96 288.38,160.97 288.87,160.99 289.35,161.01 289.83,161.03 290.32,161.06 290.80,161.09 291.28,161.12 291.77,161.16 292.25,161.21 292.73,161.26 293.22,161.33 293.70,161.40 294.13,161.66 294.57,162.25 295.00,163.13 295.43,164.24 295.87,165.51 296.30,166.90 296.74,169.02 297.18,172.15 297.62,175.74 298.06,179.27 298.50,182.20 298.95,184.94 299.40,187.71 299.85,189.84 300.30,190.70 300.74,189.32 301.18,185.88 301.62,181.39 302.06,176.89 302.50,173.40 303.00,170.34 303.50,167.33 304.00,164.65 304.50,162.58 305.00,161.40 305.50,160.78 306.00,160.23 306.50,159.75 307.00,159.35 307.50,159.03 308.00,158.79 308.50,158.65 309.00,158.60 309.50,158.60 310.00,158.60 310.50,158.60 311.00,158.60 311.50,158.60 312.00,158.60 312.50,158.60 313.00,158.60 313.50,158.60 314.00,158.60 314.50,158.60 315.00,158.60 315.50,158.60 316.00,158.60 316.50,158.60 317.00,158.60 317.50,158.60 318.00,158.60 318.50,158.60 319.00,158.60 319.50,158.60 320.00,158.60 320.50,158.60 321.00,158.60 321.50,158.60 322.00,158.60 322.50,158.60 323.00,158.60 323.50,158.60 324.00,158.60 324.50,158.60 325.00,158.60 325.50,158.60 326.00,158.60 326.50,158.60 327.00,158.60 327.50,158.60 328.00,158.60 328.50,158.60 329.00,158.60 329.50,158.60 330.00,158.60 330.50,158.60 331.00,158.60 331.50,158.60 332.00,158.60 332.50,158.60 333.00,158.60 333.50,158.60 334.00,158.60 334.50,158.60 335.00,158.60 335.50,158.60 336.00,158.60 336.50,158.60 337.00,158.60 337.50,158.60 338.00,158.60 338.50,158.60 339.00,158.60 339.50,158.60 340.00,158.60 340.50,158.60 341.00,158.60 341.50,158.60 342.00,158.60 342.50,158.60 343.00,158.60 343.50,158.60 344.00,158.60 344.50,158.60 345.00,158.60 345.50,158.60 346.00,158.60 346.50,158.60 347.00,158.60 347.50,158.60 348.00,158.60 348.50,158.60 349.00,158.60 349.50,158.60 350.00,158.60 350.50,158.60 351.00,158.60 351.49,158.62 351.99,158.63 352.48,158.66 352.98,158.70 353.47,158.74 353.97,158.78 354.46,158.84 354.96,158.90 355.45,158.97 355.95,159.05 356.45,159.13 356.94,159.22 357.44,159.32 357.93,159.42 358.43,159.53 358.92,159.64 359.42,159.76 359.91,159.89 360.41,160.02 360.90,160.16 361.40,160.30 361.89,160.48 362.38,160.73 362.87,161.05 363.36,161.43 363.85,161.88 364.35,162.39 364.84,162.96 365.33,163.58 365.82,164.27 366.31,165.01 366.80,165.80 367.27,166.93 367.74,168.60 368.21,170.61 368.69,172.74 369.16,174.79 369.63,176.54 370.10,177.80 370.60,178.81 371.10,179.65 371.60,180.00 372.08,179.34 372.57,177.66 373.05,175.36 373.53,172.89 374.02,170.66 374.50,169.10 374.98,168.04 375.46,167.01 375.93,166.04 376.41,165.15 376.89,164.35 377.37,163.66 377.84,163.11 378.32,162.72 378.80,162.50 379.20,162.42 379.60,162.37 380.00,162.30 380.49,162.15 380.98,161.95 381.47,161.70 381.96,161.42 382.44,161.13 382.93,160.85 383.42,160.59 383.91,160.37 384.40,160.20 384.88,160.07 385.37,159.93 385.85,159.80 386.33,159.68 386.82,159.56 387.30,159.45 387.78,159.35 388.27,159.27 388.75,159.20 389.23,159.14 389.72,159.11 390.20,159.10 390.68,159.15 391.16,159.28 391.63,159.47 392.11,159.71 392.59,159.97 393.07,160.24 393.54,160.50 394.02,160.72 394.50,160.90 394.99,161.05 395.48,161.21 395.98,161.37 396.47,161.53 396.96,161.68 397.45,161.83 397.94,161.96 398.43,162.07 398.92,162.17 399.42,162.24 399.91,162.28 400.40,162.30 400.85,162.24 401.30,162.08 401.75,161.86 402.20,161.60 402.65,161.34 403.10,161.12 403.55,160.96 404.00,160.90 404.48,161.22 404.97,162.01 405.45,163.05 405.93,164.09 406.42,164.88 406.90,165.20 407.34,164.80 407.78,163.81 408.22,162.60 408.66,161.52 409.10,160.90 409.58,160.62 410.07,160.36 410.55,160.13 411.03,159.92 411.52,159.73 412.00,159.56 412.48,159.42 412.97,159.31 413.45,159.22 413.93,159.15 414.42,159.11 414.90,159.10 415.39,159.11 415.87,159.13 416.36,159.16 416.85,159.21 417.33,159.27 417.82,159.33 418.31,159.41 418.79,159.49 419.28,159.58 419.77,159.67 420.25,159.77 420.74,159.88 421.23,159.98 421.71,160.09 422.20,160.20 422.68,160.35 423.17,160.55 423.65,160.78 424.13,160.99 424.62,161.14 425.10,161.20 425.59,161.11 426.08,160.88 426.57,160.55 427.06,160.16 427.54,159.74 428.03,159.35 428.52,159.02 429.01,158.79 429.50,158.70 429.98,158.72 430.47,158.76 430.95,158.83 431.43,158.92 431.92,159.04 432.40,159.17 432.88,159.32 433.37,159.48 433.85,159.65 434.33,159.83 434.82,160.01 435.30,160.20 435.78,160.41 436.27,160.67 436.75,160.97 437.23,161.30 437.72,161.66 438.20,162.05 438.68,162.45 439.17,162.86 439.65,163.28 440.13,163.69 440.62,164.10 441.10,164.50 441.58,164.96 442.07,165.49 442.55,166.04 443.03,166.52 443.52,166.87 444.00,167.00 444.46,167.00 444.93,167.00 445.39,167.00 445.85,167.00 446.32,167.00 446.78,167.00 447.25,167.00 447.71,167.00 448.17,167.00 448.64,167.00 449.10,167.00 449.55,166.91 450.00,166.65 450.45,166.27 450.90,165.80 451.35,165.28 451.80,164.75 452.25,164.25 452.70,163.80 453.18,163.32 453.67,162.80 454.15,162.27 454.63,161.79 455.12,161.42 455.60,161.20 456.09,161.09 456.58,161.01 457.07,160.95 457.56,160.90 458.04,160.85 458.53,160.80 459.02,160.75 459.51,160.69 460.00,160.60 460.45,160.47 460.90,160.29 461.35,160.08 461.80,159.89 462.25,159.75 462.70,159.70 463.19,159.70 463.68,159.70 464.17,159.70 464.66,159.70 465.15,159.70 465.64,159.70 466.13,159.70 466.62,159.70 467.11,159.70 467.60,159.70 468.09,159.70 468.58,159.70 469.07,159.70 469.56,159.70 470.05,159.70 470.54,159.70 471.03,159.70 471.52,159.70 472.01,159.70 472.49,159.70 472.98,159.70 473.47,159.70 473.96,159.70 474.45,159.70 474.94,159.70 475.43,159.70 475.92,159.70 476.41,159.70 476.90,159.70 477.39,159.70 477.88,159.70 478.37,159.70 478.86,159.70 479.35,159.70 479.84,159.70 480.33,159.70 480.82,159.70 481.31,159.70 481.80,159.70 482.29,159.70 482.78,159.71 483.27,159.72 483.76,159.74 484.25,159.76 484.74,159.79 485.23,159.82 485.72,159.85 486.21,159.89 486.70,159.93 487.19,159.98 487.68,160.02 488.17,160.07 488.66,160.13 489.15,160.18 489.64,160.24 490.13,160.30 490.62,160.36 491.11,160.42 491.59,160.48 492.08,160.55 492.57,160.61 493.06,160.68 493.55,160.74 494.04,160.81 494.53,160.87 495.02,160.94 495.51,161.00 496.00,161.06 496.49,161.13 496.98,161.19 497.47,161.25 497.96,161.30 498.45,161.36 498.94,161.41 499.43,161.46 499.92,161.51 500.41,161.56 500.90,161.60 501.40,161.64 501.89,161.69 502.39,161.73 502.88,161.78 503.38,161.83 503.87,161.88 504.37,161.93 504.86,161.97 505.36,162.02 505.85,162.07 506.35,162.11 506.85,162.16 507.34,162.20 507.84,162.24 508.33,162.27 508.83,162.30 509.32,162.33 509.82,162.35 510.31,162.37 510.81,162.39 511.30,162.40 511.80,162.40 512.29,162.40 512.78,162.39 513.27,162.37 513.76,162.36 514.25,162.33 514.74,162.31 515.23,162.27 515.71,162.24 516.20,162.21 516.69,162.17 517.18,162.13 517.67,162.09 518.16,162.04 518.65,162.00 519.14,161.96 519.63,161.91 520.12,161.87 520.61,161.83 521.10,161.79 521.59,161.76 522.08,161.72 522.56,161.69 523.05,161.67 523.54,161.64 524.03,161.63 524.52,161.61 525.01,161.60 525.50,161.60 525.95,161.70 526.40,161.98 526.85,162.41 527.30,162.96 527.75,163.60 528.20,164.30 528.67,165.70 529.13,168.03 529.60,170.76 530.07,173.37 530.53,175.33 531.00,176.10 531.50,175.61 532.00,174.30 532.50,172.42 533.00,170.21 533.50,167.92 534.00,165.79 534.50,164.07 535.00,163.00 535.50,162.40 536.00,161.90 536.50,161.47 537.00,161.10 537.50,160.76 538.00,160.43 538.50,160.09 539.00,159.70" fill="none" stroke="#007a00" stroke-width="2.3" stroke-linejoin="round" stroke-linecap="round"/>
<polyline points="56.00,203.00 56.50,202.99 56.99,202.98 57.49,202.96 57.98,202.95 58.48,202.93 58.97,202.92 59.47,202.91 59.96,202.89 60.46,202.87 60.95,202.86 61.45,202.84 61.94,202.83 62.44,202.81 62.93,202.80 63.43,202.78 63.92,202.76 64.42,202.75 64.91,202.73 65.41,202.72 65.90,202.70 66.40,202.69 66.90,202.67 67.39,202.66 67.89,202.64 68.38,202.63 68.88,202.62 69.37,202.60 69.87,202.59 70.36,202.58 70.86,202.57 71.35,202.56 71.85,202.55 72.34,202.54 72.84,202.53 73.33,202.53 73.83,202.52 74.32,202.51 74.82,202.51 75.31,202.50 75.81,202.50 76.30,202.50 76.80,202.50 77.29,202.50 77.78,202.51 78.27,202.52 78.76,202.53 79.24,202.55 79.73,202.57 80.22,202.59 80.71,202.62 81.20,202.65 81.69,202.68 82.18,202.71 82.67,202.75 83.16,202.78 83.64,202.82 84.13,202.86 84.62,202.90 85.11,202.95 85.60,202.99 86.09,203.04 86.58,203.08 87.07,203.13 87.56,203.17 88.04,203.22 88.53,203.26 89.02,203.31 89.51,203.36 90.00,203.40 90.48,203.44 90.96,203.49 91.43,203.53 91.91,203.58 92.39,203.63 92.87,203.69 93.34,203.75 93.82,203.82 94.30,203.90 94.77,204.00 95.25,204.12 95.72,204.27 96.20,204.44 96.67,204.63 97.15,204.83 97.62,205.04 98.10,205.27 98.58,205.49 99.05,205.73 99.53,205.96 100.00,206.19 100.48,206.41 100.95,206.62 101.43,206.82 101.90,207.00 102.40,207.18 102.89,207.36 103.39,207.54 103.88,207.71 104.38,207.88 104.88,208.05 105.37,208.22 105.87,208.39 106.36,208.55 106.86,208.72 107.35,208.88 107.85,209.04 108.35,209.20 108.84,209.36 109.34,209.52 109.83,209.67 110.33,209.83 110.83,209.98 111.32,210.14 111.82,210.29 112.31,210.44 112.81,210.60 113.30,210.75 113.80,210.90 114.30,211.05 114.79,211.21 115.29,211.38 115.78,211.54 116.28,211.71 116.78,211.88 117.27,212.05 117.77,212.22 118.26,212.39 118.76,212.56 119.25,212.72 119.75,212.88 120.25,213.04 120.74,213.20 121.24,213.34 121.73,213.49 122.23,213.62 122.72,213.75 123.22,213.87 123.72,213.97 124.21,214.07 124.71,214.16 125.20,214.24 125.70,214.30 126.20,214.36 126.70,214.41 127.20,214.47 127.70,214.52 128.20,214.58 128.70,214.63 129.20,214.68 129.70,214.72 130.20,214.77 130.70,214.81 131.20,214.84 131.70,214.88 132.20,214.91 132.70,214.94 133.20,214.96 133.70,214.98 134.20,214.99 134.70,215.00 135.20,215.00 135.69,214.99 136.19,214.96 136.68,214.92 137.18,214.87 137.67,214.79 138.16,214.71 138.66,214.62 139.15,214.51 139.65,214.40 140.14,214.28 140.64,214.15 141.13,214.01 141.62,213.87 142.12,213.73 142.61,213.59 143.11,213.44 143.60,213.30 144.09,213.14 144.58,212.94 145.07,212.71 145.57,212.46 146.06,212.19 146.55,211.92 147.04,211.64 147.53,211.37 148.03,211.12 148.52,210.88 149.01,210.67 149.50,210.50 150.00,210.35 150.49,210.20 150.99,210.06 151.48,209.93 151.98,209.80 152.47,209.67 152.97,209.55 153.47,209.44 153.96,209.33 154.46,209.22 154.95,209.11 155.45,209.01 155.95,208.91 156.44,208.81 156.94,208.72 157.43,208.62 157.93,208.53 158.43,208.44 158.92,208.35 159.42,208.26 159.91,208.17 160.41,208.08 160.90,207.99 161.40,207.90 161.89,207.81 162.38,207.71 162.87,207.62 163.36,207.52 163.85,207.42 164.34,207.32 164.83,207.22 165.32,207.12 165.81,207.02 166.29,206.91 166.78,206.81 167.27,206.71 167.76,206.61 168.25,206.51 168.74,206.41 169.23,206.31 169.72,206.21 170.21,206.11 170.70,206.02 171.19,205.93 171.68,205.84 172.17,205.76 172.66,205.68 173.15,205.60 173.64,205.52 174.13,205.45 174.62,205.38 175.11,205.32 175.59,205.26 176.08,205.21 176.57,205.16 177.06,205.12 177.55,205.09 178.04,205.06 178.53,205.03 179.02,205.01 179.51,205.00 180.00,205.00 180.44,205.01 180.89,205.03 181.33,205.07 181.77,205.10 182.21,205.14 182.66,205.18 183.10,205.20 183.59,205.22 184.09,205.24 184.58,205.25 185.07,205.27 185.57,205.28 186.06,205.29 186.55,205.30 187.05,205.31 187.54,205.31 188.04,205.32 188.53,205.33 189.02,205.33 189.52,205.34 190.01,205.35 190.50,205.35 191.00,205.36 191.49,205.37 191.98,205.37 192.48,205.38 192.97,205.39 193.46,205.40 193.96,205.41 194.45,205.43 194.95,205.44 195.44,205.46 195.93,205.47 196.43,205.49 196.92,205.52 197.41,205.54 197.91,205.57 198.40,205.60 198.86,205.80 199.31,206.28 199.77,206.93 200.23,207.62 200.69,208.26 201.14,208.72 201.60,208.90 202.07,208.77 202.54,208.42 203.01,207.95 203.49,207.42 203.96,206.91 204.43,206.51 204.90,206.30 205.37,206.21 205.84,206.14 206.31,206.09 206.79,206.05 207.26,206.01 207.73,205.99 208.20,205.96 208.67,205.93 209.14,205.90 209.61,205.87 210.09,205.82 210.56,205.76 211.03,205.69 211.50,205.60 211.92,205.37 212.34,204.95 212.76,204.47 213.18,204.08 213.60,203.90 214.10,203.87 214.60,203.84 215.09,203.82 215.59,203.79 216.09,203.76 216.59,203.74 217.08,203.72 217.58,203.70 218.08,203.68 218.58,203.66 219.07,203.64 219.57,203.62 220.07,203.60 220.57,203.59 221.07,203.57 221.56,203.56 222.06,203.54 222.56,203.53 223.06,203.52 223.55,203.51 224.05,203.50 224.55,203.49 225.05,203.48 225.55,203.47 226.04,203.46 226.54,203.45 227.04,203.45 227.54,203.44 228.03,203.43 228.53,203.43 229.03,203.42 229.53,203.42 230.03,203.42 230.52,203.41 231.02,203.41 231.52,203.41 232.02,203.41 232.51,203.40 233.01,203.40 233.51,203.40 234.01,203.40 234.50,203.40 235.00,203.40 235.50,203.40 236.00,203.40 236.50,203.40 237.00,203.40 237.50,203.40 238.00,203.40 238.50,203.40 239.00,203.40 239.50,203.40 240.00,203.40 240.50,203.40 241.00,203.40 241.50,203.40 242.00,203.40 242.50,203.40 243.00,203.40 243.50,203.41 244.00,203.41 244.50,203.41 245.00,203.41 245.50,203.41 246.00,203.41 246.50,203.41 247.00,203.41 247.50,203.41 248.00,203.42 248.50,203.42 249.00,203.42 249.50,203.42 250.00,203.42 250.50,203.42 251.00,203.42 251.50,203.43 252.00,203.43 252.50,203.43 253.00,203.43 253.50,203.43 254.00,203.44 254.50,203.44 255.00,203.44 255.50,203.44 256.00,203.45 256.50,203.45 257.00,203.45 257.50,203.45 258.00,203.46 258.50,203.46 259.00,203.46 259.50,203.47 260.00,203.47 260.50,203.47 261.00,203.48 261.50,203.48 262.00,203.48 262.50,203.49 263.00,203.49 263.50,203.50 264.00,203.50 264.50,203.50 265.00,203.51 265.50,203.51 266.00,203.52 266.50,203.52 267.00,203.53 267.50,203.53 268.00,203.54 268.50,203.54 269.00,203.55 269.50,203.55 270.00,203.56 270.50,203.57 271.00,203.57 271.50,203.58 272.00,203.58 272.50,203.59 273.00,203.60 273.50,203.60 274.00,203.61 274.50,203.62 275.00,203.62 275.50,203.63 276.00,203.64 276.50,203.64 277.00,203.65 277.50,203.66 278.00,203.67 278.50,203.67 279.00,203.68 279.50,203.69 280.00,203.70 280.50,203.71 281.00,203.72 281.50,203.73 282.00,203.73 282.50,203.74 283.00,203.75 283.50,203.76 284.00,203.77 284.50,203.78 285.00,203.79 285.50,203.80 286.00,203.81 286.50,203.82 287.00,203.83 287.50,203.84 288.00,203.85 288.50,203.87 289.00,203.88 289.50,203.89 290.00,203.90 290.46,203.92 290.93,203.95 291.39,204.00 291.85,204.07 292.31,204.15 292.77,204.25 293.24,204.37 293.70,204.50 294.13,204.73 294.57,205.15 295.00,205.74 295.43,206.49 295.87,207.38 296.30,208.40 296.75,210.04 297.20,212.55 297.65,215.71 298.10,219.30 298.50,224.56 298.90,230.85 299.30,233.90 299.76,232.87 300.21,230.16 300.67,226.35 301.13,222.02 301.59,217.75 302.04,214.12 302.50,211.70 302.96,210.11 303.41,208.62 303.87,207.26 304.33,206.08 304.79,205.13 305.24,204.46 305.70,204.10 306.20,203.91 306.70,203.74 307.20,203.58 307.70,203.45 308.20,203.33 308.70,203.23 309.20,203.15 309.70,203.08 310.20,203.04 310.70,203.01 311.20,203.00 311.70,203.00 312.20,203.00 312.69,203.00 313.19,203.00 313.69,203.00 314.19,203.00 314.68,203.00 315.18,203.00 315.68,203.00 316.18,203.00 316.68,203.00 317.17,203.00 317.67,203.00 318.17,203.00 318.67,203.00 319.17,203.00 319.66,203.00 320.16,203.00 320.66,203.00 321.16,203.00 321.65,203.00 322.15,203.00 322.65,203.00 323.15,203.00 323.65,203.00 324.14,203.00 324.64,203.00 325.14,203.00 325.64,203.00 326.13,203.00 326.63,203.00 327.13,203.00 327.63,203.00 328.13,203.00 328.62,203.00 329.12,203.00 329.62,203.00 330.12,203.00 330.62,203.00 331.11,203.00 331.61,203.00 332.11,203.00 332.61,203.00 333.10,203.00 333.60,203.00 334.10,203.00 334.60,203.00 335.10,203.00 335.59,203.00 336.09,203.00 336.59,203.00 337.09,203.00 337.58,203.00 338.08,203.00 338.58,203.00 339.08,203.00 339.58,203.00 340.07,203.00 340.57,203.00 341.07,203.00 341.57,203.00 342.07,203.00 342.56,203.00 343.06,203.00 343.56,203.00 344.06,203.00 344.55,203.00 345.05,203.00 345.55,203.00 346.05,203.00 346.55,203.00 347.04,203.00 347.54,203.00 348.04,203.00 348.54,203.00 349.03,203.00 349.53,203.00 350.03,203.00 350.53,203.00 351.03,203.00 351.52,203.00 352.02,203.00 352.52,203.00 353.02,203.00 353.52,203.00 354.01,203.00 354.51,203.00 355.01,203.00 355.51,203.00 356.00,203.00 356.50,203.00 357.00,203.00 357.50,203.00 358.00,203.02 358.50,203.04 359.00,203.07 359.50,203.10 360.00,203.14 360.50,203.19 361.00,203.25 361.50,203.31 362.00,203.38 362.50,203.45 363.00,203.53 363.50,203.61 364.00,203.70 364.50,203.79 365.00,203.88 365.50,203.98 366.00,204.08 366.50,204.18 367.00,204.29 367.50,204.39 368.00,204.50 368.50,204.64 369.00,204.83 369.50,205.07 370.00,205.34 370.50,205.63 371.00,205.93 371.50,206.22 372.00,206.50 372.50,206.76 373.00,206.98 373.50,207.15 374.00,207.26 374.50,207.30 374.96,207.26 375.41,207.16 375.87,207.00 376.33,206.81 376.79,206.61 377.24,206.40 377.70,206.20 378.16,205.99 378.62,205.76 379.08,205.52 379.54,205.30 380.00,205.10 380.45,204.92 380.90,204.74 381.35,204.55 381.80,204.38 382.25,204.23 382.70,204.11 383.15,204.03 383.60,204.00 384.07,204.13 384.53,204.47 385.00,204.90 385.47,205.33 385.93,205.67 386.40,205.80 386.85,205.69 387.30,205.39 387.75,204.98 388.20,204.50 388.65,204.02 389.10,203.61 389.55,203.31 390.00,203.20 390.49,203.23 390.98,203.32 391.48,203.47 391.97,203.65 392.46,203.86 392.95,204.09 393.45,204.32 393.94,204.56 394.43,204.79 394.92,205.00 395.42,205.18 395.91,205.31 396.40,205.40 396.89,205.46 397.38,205.51 397.87,205.57 398.36,205.62 398.85,205.66 399.35,205.70 399.84,205.73 400.33,205.76 400.82,205.78 401.31,205.80 401.80,205.80 402.30,205.77 402.80,205.70 403.30,205.59 403.80,205.45 404.30,205.30 404.80,205.13 405.30,204.97 405.80,204.81 406.30,204.68 406.80,204.57 407.30,204.50 407.78,204.46 408.26,204.42 408.74,204.38 409.22,204.35 409.69,204.32 410.17,204.29 410.65,204.26 411.13,204.24 411.61,204.22 412.09,204.20 412.57,204.17 413.05,204.15 413.53,204.13 414.01,204.11 414.48,204.09 414.96,204.07 415.44,204.05 415.92,204.03 416.40,204.00 416.90,203.97 417.40,203.94 417.90,203.91 418.40,203.88 418.90,203.84 419.40,203.81 419.90,203.77 420.40,203.74 420.90,203.70 421.40,203.66 421.90,203.63 422.40,203.59 422.90,203.55 423.40,203.52 423.90,203.48 424.40,203.45 424.90,203.42 425.40,203.39 425.90,203.36 426.40,203.33 426.90,203.31 427.40,203.28 427.90,203.26 428.40,203.24 428.90,203.23 429.40,203.22 429.90,203.21 430.40,203.20 430.90,203.20 431.39,203.22 431.87,203.27 432.36,203.35 432.85,203.46 433.33,203.59 433.82,203.74 434.31,203.91 434.79,204.09 435.28,204.28 435.77,204.47 436.25,204.67 436.74,204.86 437.23,205.05 437.71,205.23 438.20,205.40 438.68,205.57 439.16,205.75 439.64,205.96 440.12,206.17 440.59,206.39 441.07,206.62 441.55,206.85 442.03,207.08 442.51,207.31 442.99,207.53 443.47,207.74 443.95,207.94 444.43,208.12 444.91,208.29 445.38,208.43 445.86,208.54 446.34,208.63 446.82,208.68 447.30,208.70 447.78,208.66 448.27,208.55 448.75,208.38 449.24,208.16 449.72,207.91 450.21,207.64 450.69,207.36 451.18,207.09 451.66,206.84 452.15,206.62 452.63,206.45 453.12,206.34 453.60,206.30 454.06,206.41 454.53,206.73 454.99,207.21 455.45,207.83 455.91,208.54 456.38,209.31 456.84,210.11 457.30,210.90 457.76,211.95 458.22,213.35 458.68,214.77 459.14,215.86 459.60,216.30 460.04,215.17 460.48,212.47 460.92,209.21 461.36,206.41 461.80,205.10 462.24,204.89 462.68,204.72 463.12,204.60 463.56,204.53 464.00,204.50 464.48,205.45 464.96,207.70 465.44,210.40 465.92,212.65 466.40,213.60 466.85,213.05 467.30,211.65 467.75,209.80 468.20,207.88 468.65,206.29 469.10,205.40 469.55,205.02 470.00,204.69 470.45,204.40 470.90,204.15 471.35,203.95 471.80,203.79 472.25,203.67 472.70,203.60 473.19,203.55 473.67,203.51 474.16,203.47 474.65,203.44 475.13,203.41 475.62,203.38 476.11,203.36 476.59,203.34 477.08,203.32 477.57,203.30 478.05,203.29 478.54,203.27 479.03,203.25 479.51,203.23 480.00,203.20 480.45,203.17 480.90,203.14 481.35,203.11 481.80,203.10 482.30,203.10 482.79,203.12 483.29,203.14 483.79,203.16 484.28,203.20 484.78,203.24 485.28,203.29 485.78,203.34 486.27,203.39 486.77,203.45 487.27,203.51 487.76,203.58 488.26,203.65 488.76,203.72 489.25,203.79 489.75,203.86 490.25,203.94 490.75,204.01 491.24,204.08 491.74,204.15 492.24,204.22 492.73,204.29 493.23,204.35 493.73,204.41 494.22,204.46 494.72,204.51 495.22,204.56 495.72,204.60 496.21,204.64 496.71,204.66 497.21,204.68 497.70,204.70 498.20,204.70 498.70,204.70 499.19,204.69 499.69,204.68 500.18,204.66 500.68,204.64 501.17,204.62 501.67,204.59 502.16,204.56 502.66,204.53 503.15,204.49 503.65,204.45 504.15,204.41 504.64,204.36 505.14,204.32 505.63,204.27 506.13,204.22 506.62,204.17 507.12,204.12 507.61,204.06 508.11,204.01 508.60,203.95 509.10,203.90 509.60,203.85 510.09,203.79 510.59,203.74 511.08,203.68 511.58,203.63 512.07,203.58 512.57,203.53 513.06,203.48 513.56,203.44 514.05,203.39 514.55,203.35 515.05,203.31 515.54,203.27 516.04,203.24 516.53,203.21 517.03,203.18 517.52,203.16 518.02,203.14 518.51,203.12 519.01,203.11 519.50,203.10 520.00,203.10 520.49,203.12 520.97,203.16 521.46,203.23 521.94,203.34 522.43,203.47 522.91,203.63 523.40,203.81 523.89,204.02 524.37,204.26 524.86,204.52 525.34,204.81 525.83,205.12 526.31,205.45 526.80,205.80 527.27,206.53 527.73,207.88 528.20,209.66 528.67,211.70 529.13,213.78 529.60,215.74 530.07,217.37 530.53,218.49 531.00,218.90 531.50,218.45 532.00,217.23 532.50,215.49 533.00,213.43 533.50,211.29 534.00,209.29 534.50,207.65 535.00,206.60 535.50,205.98 536.00,205.45 536.50,205.00 537.00,204.61 537.50,204.24 538.00,203.88 538.50,203.51 539.00,203.10" fill="none" stroke="#0000f5" stroke-width="2.3" stroke-linejoin="round" stroke-linecap="round"/>
<polyline points="56.00,246.00 56.50,246.01 56.99,246.02 57.49,246.03 57.98,246.04 58.48,246.04 58.97,246.05 59.47,246.06 59.96,246.07 60.46,246.08 60.95,246.08 61.45,246.09 61.94,246.10 62.44,246.11 62.93,246.11 63.43,246.12 63.92,246.13 64.42,246.14 64.91,246.14 65.41,246.15 65.90,246.16 66.40,246.17 66.90,246.17 67.39,246.18 67.89,246.19 68.38,246.20 68.88,246.21 69.37,246.22 69.87,246.23 70.36,246.24 70.86,246.25 71.35,246.26 71.85,246.27 72.34,246.28 72.84,246.29 73.33,246.30 73.83,246.31 74.32,246.33 74.82,246.34 75.31,246.35 75.81,246.37 76.30,246.38 76.80,246.40 77.29,246.42 77.79,246.43 78.28,246.45 78.77,246.47 79.27,246.49 79.76,246.51 80.25,246.54 80.75,246.56 81.24,246.59 81.74,246.61 82.23,246.64 82.72,246.67 83.22,246.71 83.71,246.74 84.20,246.78 84.70,246.82 85.19,246.86 85.68,246.90 86.18,246.95 86.67,246.99 87.16,247.04 87.66,247.10 88.15,247.15 88.65,247.21 89.14,247.27 89.63,247.34 90.13,247.40 90.62,247.47 91.11,247.54 91.61,247.62 92.10,247.70 92.60,247.80 93.10,247.95 93.60,248.14 94.10,248.36 94.60,248.61 95.10,248.89 95.60,249.20 96.10,249.53 96.60,249.88 97.10,250.25 97.60,250.62 98.10,251.01 98.60,251.40 99.06,251.79 99.51,252.23 99.97,252.73 100.42,253.26 100.88,253.82 101.33,254.40 101.79,255.00 102.24,255.60 102.70,256.20 103.17,256.83 103.64,257.49 104.11,258.17 104.58,258.87 105.05,259.58 105.52,260.31 105.99,261.04 106.46,261.76 106.93,262.49 107.40,263.20 107.86,263.90 108.32,264.61 108.78,265.32 109.24,266.04 109.70,266.76 110.16,267.47 110.62,268.18 111.08,268.87 111.54,269.55 112.00,270.20 112.47,270.86 112.95,271.52 113.42,272.18 113.89,272.83 114.36,273.48 114.84,274.10 115.31,274.71 115.78,275.30 116.25,275.86 116.73,276.40 117.20,276.90 117.67,277.38 118.15,277.83 118.62,278.26 119.10,278.67 119.58,279.07 120.05,279.46 120.53,279.83 121.00,280.20 121.48,280.58 121.97,280.99 122.45,281.41 122.93,281.83 123.42,282.24 123.90,282.64 124.38,283.00 124.87,283.34 125.35,283.62 125.83,283.85 126.32,284.01 126.80,284.10 127.26,284.14 127.72,284.18 128.19,284.21 128.65,284.24 129.11,284.27 129.57,284.29 130.04,284.30 130.50,284.30 131.00,284.30 131.50,284.29 132.00,284.27 132.50,284.25 133.00,284.22 133.50,284.18 134.00,284.14 134.50,284.10 134.98,283.99 135.47,283.75 135.95,283.41 136.43,282.98 136.92,282.47 137.40,281.90 137.88,281.29 138.37,280.66 138.85,280.02 139.33,279.38 139.82,278.77 140.30,278.20 140.78,277.64 141.26,277.04 141.74,276.41 142.21,275.76 142.69,275.10 143.17,274.42 143.65,273.75 144.13,273.09 144.61,272.44 145.09,271.81 145.56,271.22 146.04,270.66 146.52,270.15 147.00,269.70 147.48,269.28 147.97,268.90 148.45,268.53 148.93,268.18 149.42,267.85 149.90,267.53 150.38,267.22 150.87,266.91 151.35,266.61 151.83,266.31 152.32,266.01 152.80,265.70 153.28,265.39 153.76,265.09 154.24,264.80 154.73,264.51 155.21,264.23 155.69,263.95 156.17,263.67 156.65,263.39 157.13,263.11 157.61,262.83 158.09,262.54 158.57,262.25 159.06,261.95 159.54,261.65 160.02,261.33 160.50,261.00 160.98,260.65 161.47,260.28 161.95,259.89 162.43,259.49 162.92,259.08 163.40,258.67 163.88,258.26 164.37,257.85 164.85,257.46 165.33,257.08 165.82,256.73 166.30,256.40 166.78,256.09 167.27,255.78 167.75,255.48 168.23,255.19 168.72,254.90 169.20,254.62 169.68,254.35 170.17,254.08 170.65,253.82 171.13,253.56 171.62,253.31 172.10,253.06 172.58,252.82 173.07,252.59 173.55,252.36 174.03,252.13 174.52,251.91 175.00,251.70 175.49,251.48 175.98,251.26 176.47,251.04 176.97,250.82 177.46,250.61 177.95,250.40 178.44,250.21 178.93,250.03 179.43,249.86 179.92,249.72 180.41,249.60 180.90,249.50 181.40,249.42 181.89,249.34 182.39,249.26 182.88,249.18 183.38,249.11 183.87,249.03 184.37,248.97 184.86,248.90 185.36,248.84 185.85,248.78 186.35,248.72 186.85,248.67 187.34,248.62 187.84,248.58 188.33,248.54 188.83,248.50 189.32,248.47 189.82,248.45 190.31,248.43 190.81,248.41 191.30,248.40 191.80,248.40 192.27,248.52 192.74,248.84 193.21,249.27 193.69,249.73 194.16,250.16 194.63,250.48 195.10,250.60 195.57,250.54 196.04,250.38 196.51,250.17 196.99,249.93 197.46,249.72 197.93,249.56 198.40,249.50 198.90,249.52 199.40,249.57 199.90,249.65 200.40,249.75 200.90,249.86 201.40,249.99 201.90,250.11 202.40,250.24 202.90,250.35 203.40,250.45 203.90,250.53 204.40,250.58 204.90,250.60 205.39,250.54 205.88,250.36 206.37,250.10 206.86,249.78 207.34,249.42 207.83,249.03 208.32,248.65 208.81,248.30 209.30,248.00 209.78,247.72 210.26,247.42 210.73,247.10 211.21,246.79 211.69,246.50 212.17,246.24 212.64,246.02 213.12,245.87 213.60,245.80 214.10,245.77 214.60,245.74 215.09,245.71 215.59,245.68 216.09,245.65 216.59,245.62 217.08,245.60 217.58,245.57 218.08,245.55 218.58,245.53 219.07,245.51 219.57,245.48 220.07,245.46 220.57,245.45 221.07,245.43 221.56,245.41 222.06,245.39 222.56,245.38 223.06,245.36 223.55,245.35 224.05,245.33 224.55,245.32 225.05,245.31 225.55,245.30 226.04,245.29 226.54,245.28 227.04,245.27 227.54,245.26 228.03,245.25 228.53,245.25 229.03,245.24 229.53,245.23 230.03,245.23 230.52,245.22 231.02,245.22 231.52,245.21 232.02,245.21 232.51,245.21 233.01,245.21 233.51,245.20 234.01,245.20 234.50,245.20 235.00,245.20 235.50,245.20 236.00,245.20 236.50,245.20 237.00,245.20 237.50,245.20 238.00,245.20 238.50,245.20 239.00,245.20 239.50,245.20 240.00,245.20 240.50,245.20 241.00,245.20 241.50,245.21 242.00,245.21 242.50,245.21 243.00,245.21 243.50,245.21 244.00,245.21 244.50,245.21 245.00,245.22 245.50,245.22 246.00,245.22 246.50,245.22 247.00,245.22 247.50,245.23 248.00,245.23 248.50,245.23 249.00,245.23 249.50,245.24 250.00,245.24 250.50,245.24 251.00,245.25 251.50,245.25 252.00,245.25 252.50,245.26 253.00,245.26 253.50,245.27 254.00,245.27 254.50,245.28 255.00,245.28 255.50,245.29 256.00,245.29 256.50,245.30 257.00,245.30 257.50,245.31 258.00,245.31 258.50,245.32 259.00,245.33 259.50,245.33 260.00,245.34 260.50,245.34 261.00,245.35 261.50,245.36 262.00,245.37 262.50,245.37 263.00,245.38 263.50,245.39 264.00,245.40 264.50,245.41 265.00,245.42 265.50,245.42 266.00,245.43 266.50,245.44 267.00,245.45 267.50,245.46 268.00,245.47 268.50,245.48 269.00,245.49 269.50,245.50 270.00,245.52 270.50,245.53 271.00,245.54 271.50,245.55 272.00,245.56 272.50,245.58 273.00,245.59 273.50,245.60 274.00,245.61 274.50,245.63 275.00,245.64 275.50,245.66 276.00,245.67 276.50,245.69 277.00,245.70 277.50,245.72 278.00,245.73 278.50,245.75 279.00,245.76 279.50,245.78 280.00,245.80 280.50,245.81 281.00,245.83 281.50,245.85 282.00,245.87 282.50,245.88 283.00,245.90 283.50,245.92 284.00,245.94 284.50,245.96 285.00,245.98 285.50,246.00 286.00,246.02 286.50,246.04 287.00,246.06 287.50,246.09 288.00,246.11 288.50,246.13 289.00,246.15 289.50,246.18 290.00,246.20 290.46,246.24 290.93,246.32 291.39,246.43 291.85,246.58 292.31,246.76 292.77,246.98 293.24,247.22 293.70,247.50 294.13,247.88 294.57,248.48 295.00,249.30 295.43,250.32 295.87,251.56 296.30,253.00 296.75,255.82 297.20,260.27 297.65,265.17 298.10,269.30 298.60,273.45 299.10,277.24 299.60,278.90 300.05,276.66 300.50,271.41 300.95,265.32 301.40,260.60 301.82,257.44 302.24,254.36 302.66,251.66 303.08,249.64 303.50,248.60 304.00,248.09 304.50,247.64 305.00,247.24 305.50,246.89 306.00,246.60 306.50,246.35 307.00,246.15 307.50,245.99 308.00,245.89 308.50,245.82 309.00,245.80 309.50,245.80 310.00,245.80 310.50,245.80 311.00,245.80 311.50,245.80 312.00,245.80 312.50,245.80 313.00,245.80 313.50,245.80 314.00,245.80 314.50,245.80 315.00,245.81 315.50,245.81 316.00,245.81 316.50,245.81 317.00,245.81 317.50,245.81 318.00,245.81 318.50,245.81 319.00,245.82 319.50,245.82 320.00,245.82 320.50,245.82 321.00,245.82 321.50,245.83 322.00,245.83 322.50,245.83 323.00,245.83 323.50,245.84 324.00,245.84 324.50,245.84 325.00,245.84 325.50,245.85 326.00,245.85 326.50,245.85 327.00,245.86 327.50,245.86 328.00,245.87 328.50,245.87 329.00,245.87 329.50,245.88 330.00,245.88 330.50,245.89 331.00,245.89 331.50,245.90 332.00,245.90 332.50,245.91 333.00,245.91 333.50,245.92 334.00,245.92 334.50,245.93 335.00,245.94 335.50,245.94 336.00,245.95 336.50,245.95 337.00,245.96 337.50,245.97 338.00,245.98 338.50,245.98 339.00,245.99 339.50,246.00 340.00,246.01 340.50,246.01 341.00,246.02 341.50,246.03 342.00,246.04 342.50,246.05 343.00,246.06 343.50,246.07 344.00,246.08 344.50,246.09 345.00,246.10 345.50,246.11 346.00,246.12 346.50,246.13 347.00,246.14 347.50,246.15 348.00,246.16 348.50,246.17 349.00,246.18 349.50,246.19 350.00,246.21 350.50,246.22 351.00,246.23 351.50,246.24 352.00,246.26 352.50,246.27 353.00,246.28 353.50,246.30 354.00,246.31 354.50,246.33 355.00,246.34 355.50,246.35 356.00,246.37 356.50,246.38 357.00,246.40 357.48,246.43 357.97,246.51 358.45,246.61 358.93,246.75 359.42,246.92 359.90,247.11 360.38,247.33 360.87,247.57 361.35,247.84 361.83,248.12 362.32,248.42 362.80,248.74 363.28,249.06 363.77,249.40 364.25,249.74 364.73,250.09 365.22,250.45 365.70,250.80 366.20,251.20 366.70,251.66 367.20,252.17 367.70,252.72 368.20,253.32 368.70,253.94 369.20,254.60 369.70,255.26 370.20,255.94 370.70,256.62 371.20,257.30 371.64,258.02 372.08,258.89 372.52,259.72 372.96,260.35 373.40,260.60 373.86,260.33 374.31,259.62 374.77,258.59 375.23,257.39 375.69,256.15 376.14,255.01 376.60,254.10 377.09,253.31 377.57,252.54 378.06,251.81 378.54,251.12 379.03,250.49 379.51,249.95 380.00,249.50 380.49,249.11 380.98,248.75 381.47,248.40 381.96,248.09 382.44,247.80 382.93,247.55 383.42,247.33 383.91,247.14 384.40,247.00 384.88,246.88 385.36,246.76 385.84,246.65 386.32,246.55 386.80,246.45 387.28,246.35 387.76,246.26 388.24,246.18 388.72,246.11 389.20,246.05 389.68,246.00 390.16,245.96 390.64,245.93 391.12,245.91 391.60,245.90 392.09,245.95 392.58,246.09 393.08,246.31 393.57,246.57 394.06,246.88 394.55,247.20 395.04,247.52 395.53,247.83 396.02,248.09 396.52,248.31 397.01,248.45 397.50,248.50 397.98,248.42 398.46,248.21 398.93,247.90 399.41,247.54 399.89,247.16 400.37,246.80 400.84,246.49 401.32,246.28 401.80,246.20 402.29,246.22 402.78,246.26 403.27,246.34 403.76,246.44 404.24,246.57 404.73,246.72 405.22,246.89 405.71,247.09 406.20,247.30 406.64,247.73 407.08,248.46 407.52,249.28 407.96,249.93 408.40,250.20 408.82,249.87 409.24,249.07 409.66,248.13 410.08,247.33 410.50,247.00 410.94,247.16 411.38,247.53 411.82,247.97 412.26,248.34 412.70,248.50 413.14,248.26 413.58,247.69 414.02,247.01 414.46,246.44 414.90,246.20 415.39,246.22 415.88,246.28 416.37,246.36 416.86,246.47 417.34,246.59 417.83,246.71 418.32,246.82 418.81,246.92 419.30,247.00 419.78,247.07 420.27,247.13 420.75,247.20 421.23,247.27 421.72,247.34 422.20,247.40 422.68,247.45 423.17,247.50 423.65,247.54 424.13,247.57 424.62,247.59 425.10,247.60 425.59,247.54 426.08,247.39 426.57,247.16 427.06,246.89 427.54,246.61 428.03,246.34 428.52,246.11 429.01,245.96 429.50,245.90 429.98,245.92 430.46,245.97 430.93,246.06 431.41,246.17 431.89,246.31 432.37,246.46 432.84,246.63 433.32,246.81 433.80,247.00 434.29,247.25 434.78,247.60 435.27,248.03 435.76,248.51 436.24,249.03 436.73,249.56 437.22,250.08 437.71,250.57 438.20,251.00 438.68,251.39 439.17,251.77 439.65,252.13 440.13,252.49 440.62,252.84 441.10,253.18 441.58,253.53 442.07,253.87 442.55,254.22 443.03,254.57 443.52,254.93 444.00,255.30 444.45,255.69 444.90,256.15 445.35,256.63 445.80,257.10 446.25,257.53 446.70,257.88 447.15,258.11 447.60,258.20 448.06,258.10 448.53,257.84 448.99,257.44 449.45,256.93 449.91,256.36 450.38,255.76 450.84,255.16 451.30,254.60 451.75,254.02 452.20,253.36 452.65,252.64 453.10,251.90 453.55,251.19 454.00,250.52 454.45,249.95 454.90,249.50 455.36,249.13 455.83,248.80 456.29,248.50 456.75,248.23 457.22,247.97 457.68,247.73 458.15,247.50 458.61,247.28 459.07,247.06 459.54,246.83 460.00,246.60 460.45,246.34 460.90,246.06 461.35,245.78 461.80,245.53 462.25,245.36 462.70,245.30 463.20,245.30 463.69,245.32 464.19,245.33 464.68,245.36 465.18,245.39 465.67,245.42 466.17,245.46 466.66,245.51 467.16,245.55 467.65,245.60 468.15,245.65 468.65,245.71 469.14,245.76 469.64,245.82 470.13,245.87 470.63,245.93 471.12,245.98 471.62,246.03 472.11,246.08 472.61,246.12 473.10,246.16 473.60,246.20 474.10,246.23 474.60,246.27 475.09,246.30 475.59,246.33 476.09,246.36 476.59,246.39 477.08,246.42 477.58,246.44 478.08,246.47 478.58,246.50 479.08,246.52 479.57,246.55 480.07,246.57 480.57,246.60 481.07,246.62 481.56,246.64 482.06,246.67 482.56,246.69 483.06,246.71 483.55,246.74 484.05,246.76 484.55,246.78 485.05,246.81 485.55,246.83 486.04,246.86 486.54,246.88 487.04,246.91 487.54,246.93 488.03,246.96 488.53,246.99 489.03,247.02 489.53,247.05 490.02,247.08 490.52,247.11 491.02,247.14 491.52,247.18 492.02,247.21 492.51,247.25 493.01,247.29 493.51,247.33 494.01,247.37 494.50,247.41 495.00,247.45 495.50,247.50 495.99,247.55 496.49,247.62 496.98,247.69 497.48,247.78 497.97,247.87 498.46,247.97 498.96,248.08 499.45,248.20 499.95,248.32 500.44,248.45 500.93,248.58 501.43,248.72 501.92,248.86 502.42,248.99 502.91,249.13 503.40,249.27 503.90,249.41 504.39,249.55 504.88,249.68 505.38,249.81 505.87,249.94 506.37,250.06 506.86,250.17 507.35,250.28 507.85,250.38 508.34,250.47 508.84,250.55 509.33,250.63 509.82,250.69 510.32,250.73 510.81,250.77 511.31,250.79 511.80,250.80 512.30,250.79 512.79,250.76 513.29,250.70 513.78,250.63 514.28,250.55 514.77,250.45 515.27,250.35 515.76,250.23 516.26,250.11 516.75,249.98 517.25,249.85 517.75,249.72 518.24,249.59 518.74,249.47 519.23,249.35 519.73,249.25 520.22,249.15 520.72,249.07 521.21,249.00 521.71,248.94 522.20,248.91 522.70,248.90 523.20,248.94 523.70,249.04 524.20,249.22 524.70,249.46 525.20,249.77 525.70,250.15 526.20,250.59 526.70,251.10 527.20,251.67 527.70,252.31 528.20,253.00 528.64,254.54 529.08,257.30 529.52,260.37 529.96,262.87 530.40,263.90 530.86,263.40 531.31,262.10 531.77,260.25 532.23,258.15 532.69,256.05 533.14,254.25 533.60,253.00 534.09,252.12 534.58,251.33 535.07,250.64 535.56,250.01 536.05,249.43 536.55,248.89 537.04,248.38 537.53,247.86 538.02,247.34 538.51,246.79 539.00,246.20" fill="none" stroke="#6e0a0a" stroke-width="2.3" stroke-linejoin="round" stroke-linecap="round"/>
<polyline points="56.00,293.80 56.50,293.83 56.99,293.85 57.49,293.88 57.98,293.90 58.48,293.92 58.97,293.95 59.47,293.97 59.96,293.99 60.46,294.02 60.95,294.04 61.45,294.06 61.94,294.08 62.44,294.10 62.93,294.13 63.43,294.15 63.92,294.17 64.42,294.19 64.91,294.21 65.41,294.24 65.90,294.26 66.40,294.28 66.90,294.30 67.39,294.33 67.89,294.35 68.38,294.38 68.88,294.40 69.37,294.43 69.87,294.45 70.36,294.48 70.86,294.51 71.35,294.53 71.85,294.56 72.34,294.59 72.84,294.62 73.33,294.65 73.83,294.69 74.32,294.72 74.82,294.75 75.31,294.79 75.81,294.82 76.30,294.86 76.80,294.90 77.29,294.94 77.79,294.98 78.28,295.02 78.77,295.06 79.27,295.10 79.76,295.15 80.25,295.19 80.75,295.24 81.24,295.28 81.74,295.33 82.23,295.39 82.72,295.44 83.22,295.50 83.71,295.55 84.20,295.62 84.70,295.68 85.19,295.75 85.68,295.82 86.18,295.89 86.67,295.97 87.16,296.05 87.66,296.14 88.15,296.22 88.65,296.32 89.14,296.41 89.63,296.52 90.13,296.62 90.62,296.73 91.11,296.85 91.61,296.97 92.10,297.10 92.58,297.27 93.07,297.50 93.55,297.77 94.03,298.08 94.52,298.39 95.00,298.70 95.45,298.97 95.90,299.24 96.35,299.52 96.80,299.80 97.25,300.11 97.70,300.44 98.15,300.80 98.60,301.20 99.06,301.68 99.51,302.24 99.97,302.87 100.42,303.56 100.88,304.28 101.33,305.02 101.79,305.77 102.24,306.50 102.70,307.20 103.18,307.92 103.66,308.66 104.14,309.41 104.62,310.17 105.11,310.94 105.59,311.71 106.07,312.48 106.55,313.24 107.03,314.00 107.51,314.75 107.99,315.49 108.48,316.21 108.96,316.92 109.44,317.61 109.92,318.27 110.40,318.90 110.88,319.52 111.36,320.12 111.84,320.72 112.33,321.32 112.81,321.90 113.29,322.47 113.77,323.03 114.25,323.58 114.73,324.12 115.21,324.65 115.69,325.16 116.17,325.66 116.66,326.14 117.14,326.61 117.62,327.06 118.10,327.50 118.58,327.93 119.06,328.37 119.54,328.81 120.02,329.25 120.51,329.69 120.99,330.11 121.47,330.53 121.95,330.93 122.43,331.31 122.91,331.68 123.39,332.01 123.88,332.32 124.36,332.60 124.84,332.84 125.32,333.04 125.80,333.20 126.27,333.33 126.73,333.46 127.20,333.59 127.67,333.70 128.13,333.80 128.60,333.88 129.07,333.95 129.53,333.99 130.00,334.00 130.50,334.00 131.00,333.99 131.50,333.99 132.00,333.98 132.50,333.97 133.00,333.95 133.50,333.94 134.00,333.92 134.50,333.90 134.98,333.84 135.46,333.72 135.94,333.53 136.41,333.29 136.89,332.99 137.37,332.65 137.85,332.28 138.33,331.88 138.81,331.45 139.29,331.01 139.76,330.55 140.24,330.10 140.72,329.64 141.20,329.20 141.68,328.73 142.16,328.21 142.64,327.65 143.12,327.05 143.60,326.42 144.08,325.78 144.56,325.13 145.04,324.47 145.52,323.83 146.00,323.20 146.49,322.55 146.98,321.87 147.47,321.17 147.96,320.47 148.45,319.76 148.94,319.07 149.43,318.41 149.92,317.79 150.41,317.21 150.90,316.70 151.38,316.23 151.86,315.78 152.34,315.34 152.82,314.92 153.31,314.51 153.79,314.11 154.27,313.73 154.75,313.36 155.23,313.00 155.71,312.66 156.19,312.33 156.68,312.02 157.16,311.72 157.64,311.43 158.12,311.16 158.60,310.90 159.00,310.71 159.40,310.56 159.80,310.40 160.20,310.20 160.68,309.90 161.16,309.54 161.64,309.14 162.12,308.70 162.60,308.23 163.08,307.75 163.56,307.26 164.04,306.79 164.52,306.33 165.00,305.90 165.49,305.47 165.98,305.04 166.47,304.60 166.96,304.16 167.45,303.73 167.95,303.30 168.44,302.89 168.93,302.50 169.42,302.14 169.91,301.80 170.40,301.50 170.89,301.22 171.38,300.96 171.86,300.70 172.35,300.46 172.84,300.22 173.33,299.99 173.82,299.77 174.31,299.56 174.79,299.36 175.28,299.16 175.77,298.96 176.26,298.78 176.75,298.59 177.24,298.42 177.72,298.24 178.21,298.07 178.70,297.90 179.20,297.72 179.70,297.54 180.20,297.35 180.70,297.16 181.20,296.97 181.70,296.78 182.20,296.59 182.70,296.40 183.20,296.23 183.70,296.06 184.20,295.90 184.70,295.75 185.20,295.61 185.70,295.50 186.20,295.39 186.70,295.31 187.20,295.25 187.70,295.21 188.20,295.20 188.67,295.31 189.15,295.59 189.62,295.99 190.10,296.45 190.57,296.91 191.05,297.31 191.53,297.59 192.00,297.70 192.47,297.67 192.95,297.59 193.43,297.48 193.90,297.35 194.38,297.22 194.85,297.11 195.33,297.03 195.80,297.00 196.27,297.01 196.73,297.03 197.20,297.05 197.67,297.08 198.13,297.12 198.60,297.15 199.07,297.17 199.53,297.19 200.00,297.20 200.47,297.20 200.94,297.19 201.41,297.18 201.88,297.17 202.35,297.15 202.82,297.12 203.29,297.10 203.76,297.07 204.23,297.04 204.70,297.00 205.17,296.92 205.64,296.77 206.11,296.57 206.59,296.35 207.06,296.11 207.53,295.89 208.00,295.70 208.47,295.53 208.93,295.35 209.40,295.16 209.87,294.98 210.33,294.79 210.80,294.62 211.27,294.45 211.73,294.30 212.20,294.16 212.67,294.05 213.13,293.96 213.60,293.90 214.10,293.85 214.60,293.80 215.09,293.76 215.59,293.71 216.09,293.67 216.59,293.63 217.09,293.58 217.58,293.54 218.08,293.50 218.58,293.46 219.08,293.43 219.58,293.39 220.07,293.35 220.57,293.32 221.07,293.29 221.57,293.25 222.07,293.22 222.56,293.19 223.06,293.16 223.56,293.13 224.06,293.10 224.56,293.08 225.05,293.05 225.55,293.02 226.05,293.00 226.55,292.98 227.05,292.96 227.55,292.93 228.04,292.91 228.54,292.89 229.04,292.88 229.54,292.86 230.04,292.84 230.53,292.83 231.03,292.81 231.53,292.80 232.03,292.79 232.53,292.77 233.02,292.76 233.52,292.75 234.02,292.74 234.52,292.74 235.02,292.73 235.51,292.72 236.01,292.72 236.51,292.71 237.01,292.71 237.51,292.70 238.00,292.70 238.50,292.70 239.00,292.70 239.50,292.70 240.00,292.70 240.50,292.71 241.00,292.71 241.50,292.72 242.00,292.73 242.50,292.73 243.00,292.74 243.50,292.76 244.00,292.77 244.50,292.78 245.00,292.80 245.50,292.81 246.00,292.83 246.50,292.85 247.00,292.87 247.50,292.89 248.00,292.91 248.50,292.93 249.00,292.95 249.50,292.97 250.00,293.00 250.50,293.02 251.00,293.05 251.50,293.07 252.00,293.10 252.50,293.13 253.00,293.16 253.50,293.19 254.00,293.21 254.50,293.24 255.00,293.28 255.50,293.31 256.00,293.34 256.50,293.37 257.00,293.40 257.50,293.43 258.00,293.47 258.50,293.50 259.00,293.53 259.50,293.56 260.00,293.60 260.50,293.63 261.00,293.66 261.50,293.70 262.00,293.73 262.50,293.77 263.00,293.80 263.50,293.83 264.00,293.87 264.50,293.90 265.00,293.93 265.50,293.97 266.00,294.01 266.50,294.05 267.00,294.09 267.50,294.13 268.00,294.17 268.50,294.22 269.00,294.26 269.50,294.31 270.00,294.36 270.50,294.41 271.00,294.46 271.50,294.51 272.00,294.56 272.50,294.62 273.00,294.67 273.50,294.73 274.00,294.78 274.50,294.84 275.00,294.90 275.50,294.95 276.00,295.01 276.50,295.07 277.00,295.13 277.50,295.19 278.00,295.25 278.50,295.32 279.00,295.38 279.50,295.44 280.00,295.50 280.50,295.56 281.00,295.62 281.50,295.67 282.00,295.72 282.50,295.77 283.00,295.82 283.50,295.87 284.00,295.92 284.50,295.97 285.00,296.03 285.50,296.09 286.00,296.16 286.50,296.23 287.00,296.31 287.50,296.40 288.00,296.50 288.50,296.61 289.00,296.73 289.50,296.86 290.00,297.00 290.48,297.21 290.96,297.53 291.45,297.97 291.93,298.54 292.41,299.21 292.89,300.00 293.37,300.90 293.85,301.92 294.34,303.04 294.82,304.27 295.30,305.60 295.74,307.49 296.18,310.36 296.62,313.81 297.06,317.46 297.50,320.90 298.00,325.34 298.50,330.37 299.00,334.49 299.50,336.20 299.96,333.95 300.42,328.39 300.88,321.35 301.34,314.61 301.80,310.00 302.27,307.04 302.74,304.25 303.21,301.72 303.69,299.53 304.16,297.76 304.63,296.49 305.10,295.80 305.59,295.43 306.08,295.09 306.57,294.79 307.06,294.52 307.55,294.29 308.05,294.10 308.54,293.93 309.03,293.80 309.52,293.70 310.01,293.64 310.50,293.60 311.00,293.58 311.50,293.56 312.00,293.54 312.50,293.52 313.00,293.50 313.50,293.48 314.00,293.46 314.50,293.45 315.00,293.43 315.50,293.41 316.00,293.39 316.50,293.38 317.00,293.36 317.50,293.35 318.00,293.33 318.50,293.32 319.00,293.30 319.50,293.29 320.00,293.28 320.50,293.26 321.00,293.25 321.50,293.24 322.00,293.23 322.50,293.22 323.00,293.21 323.50,293.20 324.00,293.18 324.50,293.17 325.00,293.17 325.50,293.16 326.00,293.15 326.50,293.14 327.00,293.13 327.50,293.12 328.00,293.11 328.50,293.11 329.00,293.10 329.50,293.09 330.00,293.09 330.50,293.08 331.00,293.07 331.50,293.07 332.00,293.06 332.50,293.06 333.00,293.05 333.50,293.05 334.00,293.04 334.50,293.04 335.00,293.04 335.50,293.03 336.00,293.03 336.50,293.03 337.00,293.02 337.50,293.02 338.00,293.02 338.50,293.01 339.00,293.01 339.50,293.01 340.00,293.01 340.50,293.01 341.00,293.01 341.50,293.00 342.00,293.00 342.50,293.00 343.00,293.00 343.50,293.00 344.00,293.00 344.50,293.00 345.00,293.00 345.50,293.00 346.00,293.00 346.49,293.01 346.99,293.02 347.49,293.03 347.99,293.05 348.48,293.08 348.98,293.10 349.48,293.14 349.97,293.17 350.47,293.21 350.97,293.26 351.47,293.31 351.96,293.37 352.46,293.42 352.96,293.49 353.45,293.56 353.95,293.63 354.45,293.71 354.95,293.79 355.44,293.88 355.94,293.97 356.44,294.07 356.93,294.17 357.43,294.28 357.93,294.39 358.43,294.51 358.92,294.63 359.42,294.76 359.92,294.89 360.41,295.03 360.91,295.17 361.41,295.32 361.91,295.48 362.40,295.64 362.90,295.80 363.39,296.03 363.88,296.37 364.37,296.82 364.86,297.37 365.34,298.01 365.83,298.72 366.32,299.49 366.81,300.32 367.30,301.20 367.78,302.28 368.26,303.71 368.73,305.41 369.21,307.30 369.69,309.28 370.17,311.28 370.64,313.20 371.12,314.97 371.60,316.50 372.04,317.86 372.48,319.29 372.92,320.58 373.36,321.55 373.80,322.00 374.23,322.12 374.67,322.22 375.10,322.30 375.53,322.35 375.97,322.39 376.40,322.40 376.88,321.58 377.37,319.46 377.85,316.52 378.33,313.27 378.82,310.20 379.30,307.80 379.65,306.55 380.00,305.40 380.48,303.66 380.97,301.77 381.45,299.91 381.93,298.22 382.42,296.86 382.90,296.00 383.35,295.49 383.80,295.02 384.25,294.59 384.70,294.22 385.15,293.92 385.60,293.69 386.05,293.55 386.50,293.50 387.00,293.53 387.50,293.63 388.00,293.78 388.50,293.98 389.00,294.23 389.50,294.50 390.00,294.90 390.50,295.70 390.90,299.17 391.30,302.20 391.75,299.07 392.20,295.70 392.65,295.37 393.10,295.20 393.58,295.03 394.07,294.86 394.55,294.72 395.03,294.60 395.52,294.53 396.00,294.50 396.44,294.80 396.88,295.52 397.32,296.38 397.76,297.10 398.20,297.40 398.68,297.19 399.17,296.65 399.65,295.95 400.13,295.25 400.62,294.71 401.10,294.50 401.52,294.54 401.94,294.68 402.36,294.91 402.78,295.25 403.20,295.70 403.60,299.07 404.00,302.20 404.40,299.13 404.80,295.70 405.15,295.22 405.50,295.00 405.95,294.88 406.40,294.77 406.85,294.69 407.30,294.62 407.75,294.57 408.20,294.53 408.65,294.51 409.10,294.50 409.55,294.56 410.00,294.73 410.45,294.97 410.90,295.25 411.35,295.53 411.80,295.77 412.25,295.94 412.70,296.00 413.14,295.84 413.58,295.47 414.02,295.03 414.46,294.66 414.90,294.50 415.36,294.55 415.82,294.69 416.28,294.92 416.74,295.26 417.20,295.70 417.65,298.12 418.10,300.30 418.55,298.22 419.00,295.70 419.50,294.85 420.00,294.50 420.45,294.53 420.90,294.61 421.35,294.72 421.80,294.85 422.25,294.98 422.70,295.09 423.15,295.17 423.60,295.20 424.08,295.13 424.57,294.97 425.05,294.74 425.53,294.49 426.02,294.26 426.50,294.10 426.99,293.98 427.48,293.86 427.98,293.74 428.47,293.63 428.96,293.52 429.45,293.42 429.94,293.33 430.43,293.25 430.92,293.19 431.42,293.14 431.91,293.11 432.40,293.10 432.88,293.15 433.36,293.27 433.83,293.46 434.31,293.71 434.79,293.99 435.27,294.29 435.74,294.61 436.22,294.91 436.70,295.20 437.19,295.49 437.68,295.79 438.17,296.11 438.66,296.44 439.14,296.78 439.63,297.12 440.12,297.48 440.61,297.84 441.10,298.20 441.55,298.58 442.00,299.03 442.45,299.51 442.90,299.98 443.35,300.42 443.80,300.77 444.25,301.01 444.70,301.10 445.16,301.04 445.62,300.88 446.09,300.63 446.55,300.32 447.01,299.98 447.47,299.61 447.94,299.24 448.40,298.90 448.88,298.52 449.36,298.08 449.83,297.60 450.31,297.10 450.79,296.61 451.27,296.15 451.74,295.74 452.22,295.42 452.70,295.20 453.19,295.04 453.67,294.90 454.16,294.76 454.65,294.63 455.13,294.51 455.62,294.40 456.11,294.29 456.59,294.20 457.08,294.12 457.57,294.04 458.05,293.97 458.54,293.92 459.03,293.87 459.51,293.83 460.00,293.80 460.50,293.77 460.99,293.75 461.49,293.72 461.99,293.70 462.48,293.68 462.98,293.66 463.48,293.64 463.97,293.62 464.47,293.60 464.97,293.58 465.46,293.56 465.96,293.54 466.46,293.53 466.95,293.51 467.45,293.50 467.94,293.48 468.44,293.47 468.94,293.46 469.43,293.45 469.93,293.44 470.43,293.43 470.92,293.43 471.42,293.42 471.92,293.41 472.41,293.41 472.91,293.40 473.41,293.40 473.90,293.40 474.40,293.40 474.90,293.41 475.39,293.42 475.89,293.45 476.38,293.49 476.88,293.54 477.37,293.59 477.87,293.66 478.36,293.73 478.86,293.82 479.35,293.91 479.85,294.01 480.34,294.11 480.84,294.22 481.33,294.34 481.83,294.47 482.32,294.59 482.82,294.73 483.31,294.87 483.81,295.01 484.30,295.15 484.80,295.30 485.29,295.46 485.79,295.61 486.28,295.77 486.78,295.92 487.27,296.08 487.77,296.24 488.26,296.40 488.76,296.56 489.25,296.72 489.75,296.87 490.24,297.03 490.74,297.18 491.23,297.34 491.73,297.49 492.22,297.63 492.72,297.77 493.21,297.91 493.71,298.05 494.20,298.18 494.70,298.30 495.19,298.42 495.68,298.56 496.16,298.70 496.65,298.85 497.14,299.00 497.62,299.16 498.11,299.32 498.60,299.48 499.09,299.64 499.57,299.80 500.06,299.95 500.55,300.11 501.04,300.26 501.52,300.40 502.01,300.53 502.50,300.66 502.99,300.78 503.47,300.88 503.96,300.97 504.45,301.05 504.94,301.11 505.42,301.16 505.91,301.19 506.40,301.20 506.88,301.19 507.37,301.16 507.85,301.11 508.33,301.05 508.82,300.98 509.30,300.89 509.78,300.79 510.27,300.68 510.75,300.57 511.23,300.45 511.72,300.32 512.20,300.20 512.68,300.08 513.17,299.95 513.65,299.83 514.13,299.72 514.62,299.61 515.10,299.51 515.58,299.42 516.07,299.35 516.55,299.29 517.03,299.24 517.52,299.21 518.00,299.20 518.48,299.22 518.97,299.27 519.45,299.36 519.93,299.47 520.42,299.63 520.90,299.81 521.38,300.02 521.87,300.27 522.35,300.54 522.83,300.84 523.32,301.17 523.80,301.53 524.28,301.91 524.77,302.32 525.25,302.76 525.73,303.21 526.22,303.70 526.70,304.20 527.19,305.13 527.68,306.72 528.17,308.78 528.66,311.10 529.14,313.46 529.63,315.66 530.12,317.49 530.61,318.74 531.10,319.20 531.59,318.64 532.08,317.13 532.57,314.89 533.06,312.18 533.54,309.23 534.03,306.28 534.52,303.56 535.01,301.32 535.50,299.80 535.98,298.81 536.46,297.95 536.93,297.20 537.41,296.52 537.89,295.90 538.37,295.30 538.84,294.70 539.32,294.08 539.80,293.40" fill="none" stroke="#0a3a8c" stroke-width="2.3" stroke-linejoin="round" stroke-linecap="round"/>
<g fill="#aaaaaa"><circle cx="300.2" cy="68.20" r="1.55"/><circle cx="300.2" cy="74.21" r="1.55"/><circle cx="300.2" cy="80.21" r="1.55"/><circle cx="300.2" cy="86.22" r="1.55"/><circle cx="300.2" cy="92.23" r="1.55"/><circle cx="300.2" cy="98.23" r="1.55"/><circle cx="300.2" cy="104.24" r="1.55"/><circle cx="300.2" cy="110.25" r="1.55"/><circle cx="300.2" cy="116.25" r="1.55"/><circle cx="300.2" cy="122.26" r="1.55"/><circle cx="300.2" cy="128.27" r="1.55"/><circle cx="300.2" cy="134.27" r="1.55"/><circle cx="300.2" cy="140.28" r="1.55"/><circle cx="300.2" cy="146.28" r="1.55"/><circle cx="300.2" cy="152.29" r="1.55"/><circle cx="300.2" cy="158.30" r="1.55"/><circle cx="300.2" cy="164.30" r="1.55"/><circle cx="300.2" cy="170.31" r="1.55"/><circle cx="300.2" cy="176.32" r="1.55"/><circle cx="300.2" cy="182.32" r="1.55"/><circle cx="300.2" cy="188.33" r="1.55"/><circle cx="300.2" cy="194.34" r="1.55"/><circle cx="300.2" cy="200.34" r="1.55"/><circle cx="300.2" cy="206.35" r="1.55"/><circle cx="300.2" cy="212.36" r="1.55"/><circle cx="300.2" cy="218.36" r="1.55"/><circle cx="300.2" cy="224.37" r="1.55"/><circle cx="300.2" cy="230.38" r="1.55"/><circle cx="300.2" cy="236.38" r="1.55"/><circle cx="300.2" cy="242.39" r="1.55"/><circle cx="300.2" cy="248.40" r="1.55"/><circle cx="300.2" cy="254.40" r="1.55"/><circle cx="300.2" cy="260.41" r="1.55"/><circle cx="300.2" cy="266.42" r="1.55"/><circle cx="300.2" cy="272.42" r="1.55"/><circle cx="300.2" cy="278.43" r="1.55"/><circle cx="300.2" cy="284.43" r="1.55"/><circle cx="300.2" cy="290.44" r="1.55"/><circle cx="300.2" cy="296.45" r="1.55"/><circle cx="300.2" cy="302.45" r="1.55"/><circle cx="300.2" cy="308.46" r="1.55"/><circle cx="300.2" cy="314.47" r="1.55"/><circle cx="300.2" cy="320.47" r="1.55"/><circle cx="300.2" cy="326.48" r="1.55"/><circle cx="300.2" cy="332.49" r="1.55"/><circle cx="300.2" cy="338.49" r="1.55"/><circle cx="300.2" cy="344.50" r="1.55"/></g>
<g fill="#aaaaaa"><circle cx="377.5" cy="66.60" r="1.55"/><circle cx="377.5" cy="72.61" r="1.55"/><circle cx="377.5" cy="78.62" r="1.55"/><circle cx="377.5" cy="84.63" r="1.55"/><circle cx="377.5" cy="90.64" r="1.55"/><circle cx="377.5" cy="96.65" r="1.55"/><circle cx="377.5" cy="102.67" r="1.55"/><circle cx="377.5" cy="108.68" r="1.55"/><circle cx="377.5" cy="114.69" r="1.55"/><circle cx="377.5" cy="120.70" r="1.55"/><circle cx="377.5" cy="126.71" r="1.55"/><circle cx="377.5" cy="132.72" r="1.55"/><circle cx="377.5" cy="138.73" r="1.55"/><circle cx="377.5" cy="144.74" r="1.55"/><circle cx="377.5" cy="150.75" r="1.55"/><circle cx="377.5" cy="156.76" r="1.55"/><circle cx="377.5" cy="162.77" r="1.55"/><circle cx="377.5" cy="168.78" r="1.55"/><circle cx="377.5" cy="174.80" r="1.55"/><circle cx="377.5" cy="180.81" r="1.55"/><circle cx="377.5" cy="186.82" r="1.55"/><circle cx="377.5" cy="192.83" r="1.55"/><circle cx="377.5" cy="198.84" r="1.55"/><circle cx="377.5" cy="204.85" r="1.55"/><circle cx="377.5" cy="210.86" r="1.55"/><circle cx="377.5" cy="216.87" r="1.55"/><circle cx="377.5" cy="222.88" r="1.55"/><circle cx="377.5" cy="228.89" r="1.55"/><circle cx="377.5" cy="234.90" r="1.55"/><circle cx="377.5" cy="240.92" r="1.55"/><circle cx="377.5" cy="246.93" r="1.55"/><circle cx="377.5" cy="252.94" r="1.55"/><circle cx="377.5" cy="258.95" r="1.55"/><circle cx="377.5" cy="264.96" r="1.55"/><circle cx="377.5" cy="270.97" r="1.55"/><circle cx="377.5" cy="276.98" r="1.55"/><circle cx="377.5" cy="282.99" r="1.55"/><circle cx="377.5" cy="289.00" r="1.55"/><circle cx="377.5" cy="295.01" r="1.55"/><circle cx="377.5" cy="301.02" r="1.55"/><circle cx="377.5" cy="307.03" r="1.55"/><circle cx="377.5" cy="313.05" r="1.55"/><circle cx="377.5" cy="319.06" r="1.55"/><circle cx="377.5" cy="325.07" r="1.55"/><circle cx="377.5" cy="331.08" r="1.55"/><circle cx="377.5" cy="337.09" r="1.55"/><circle cx="377.5" cy="343.10" r="1.55"/></g>
<g fill="#aaaaaa"><circle cx="447.2" cy="77.60" r="1.55"/><circle cx="447.2" cy="83.61" r="1.55"/><circle cx="447.2" cy="89.62" r="1.55"/><circle cx="447.2" cy="95.63" r="1.55"/><circle cx="447.2" cy="101.64" r="1.55"/><circle cx="447.2" cy="107.65" r="1.55"/><circle cx="447.2" cy="113.66" r="1.55"/><circle cx="447.2" cy="119.67" r="1.55"/><circle cx="447.2" cy="125.68" r="1.55"/><circle cx="447.2" cy="131.69" r="1.55"/><circle cx="447.2" cy="137.71" r="1.55"/><circle cx="447.2" cy="143.72" r="1.55"/><circle cx="447.2" cy="149.73" r="1.55"/><circle cx="447.2" cy="155.74" r="1.55"/><circle cx="447.2" cy="161.75" r="1.55"/><circle cx="447.2" cy="167.76" r="1.55"/><circle cx="447.2" cy="173.77" r="1.55"/><circle cx="447.2" cy="179.78" r="1.55"/><circle cx="447.2" cy="185.79" r="1.55"/><circle cx="447.2" cy="191.80" r="1.55"/><circle cx="447.2" cy="197.81" r="1.55"/><circle cx="447.2" cy="203.82" r="1.55"/><circle cx="447.2" cy="209.83" r="1.55"/><circle cx="447.2" cy="215.84" r="1.55"/><circle cx="447.2" cy="221.85" r="1.55"/><circle cx="447.2" cy="227.86" r="1.55"/><circle cx="447.2" cy="233.87" r="1.55"/><circle cx="447.2" cy="239.88" r="1.55"/><circle cx="447.2" cy="245.89" r="1.55"/><circle cx="447.2" cy="251.91" r="1.55"/><circle cx="447.2" cy="257.92" r="1.55"/><circle cx="447.2" cy="263.93" r="1.55"/><circle cx="447.2" cy="269.94" r="1.55"/><circle cx="447.2" cy="275.95" r="1.55"/><circle cx="447.2" cy="281.96" r="1.55"/><circle cx="447.2" cy="287.97" r="1.55"/><circle cx="447.2" cy="293.98" r="1.55"/><circle cx="447.2" cy="299.99" r="1.55"/><circle cx="447.2" cy="306.00" r="1.55"/></g>
<g fill="#aaaaaa"><circle cx="531.2" cy="40.20" r="1.55"/><circle cx="531.2" cy="46.21" r="1.55"/><circle cx="531.2" cy="52.22" r="1.55"/><circle cx="531.2" cy="58.23" r="1.55"/><circle cx="531.2" cy="64.24" r="1.55"/><circle cx="531.2" cy="70.25" r="1.55"/><circle cx="531.2" cy="76.27" r="1.55"/><circle cx="531.2" cy="82.28" r="1.55"/><circle cx="531.2" cy="88.29" r="1.55"/><circle cx="531.2" cy="94.30" r="1.55"/><circle cx="531.2" cy="100.31" r="1.55"/><circle cx="531.2" cy="106.32" r="1.55"/><circle cx="531.2" cy="112.33" r="1.55"/><circle cx="531.2" cy="118.34" r="1.55"/><circle cx="531.2" cy="124.35" r="1.55"/><circle cx="531.2" cy="130.36" r="1.55"/><circle cx="531.2" cy="136.37" r="1.55"/><circle cx="531.2" cy="142.38" r="1.55"/><circle cx="531.2" cy="148.40" r="1.55"/><circle cx="531.2" cy="154.41" r="1.55"/><circle cx="531.2" cy="160.42" r="1.55"/><circle cx="531.2" cy="166.43" r="1.55"/><circle cx="531.2" cy="172.44" r="1.55"/><circle cx="531.2" cy="178.45" r="1.55"/><circle cx="531.2" cy="184.46" r="1.55"/><circle cx="531.2" cy="190.47" r="1.55"/><circle cx="531.2" cy="196.48" r="1.55"/><circle cx="531.2" cy="202.49" r="1.55"/><circle cx="531.2" cy="208.50" r="1.55"/><circle cx="531.2" cy="214.52" r="1.55"/><circle cx="531.2" cy="220.53" r="1.55"/><circle cx="531.2" cy="226.54" r="1.55"/><circle cx="531.2" cy="232.55" r="1.55"/><circle cx="531.2" cy="238.56" r="1.55"/><circle cx="531.2" cy="244.57" r="1.55"/><circle cx="531.2" cy="250.58" r="1.55"/><circle cx="531.2" cy="256.59" r="1.55"/><circle cx="531.2" cy="262.60" r="1.55"/><circle cx="531.2" cy="268.61" r="1.55"/><circle cx="531.2" cy="274.62" r="1.55"/><circle cx="531.2" cy="280.63" r="1.55"/><circle cx="531.2" cy="286.65" r="1.55"/><circle cx="531.2" cy="292.66" r="1.55"/><circle cx="531.2" cy="298.67" r="1.55"/><circle cx="531.2" cy="304.68" r="1.55"/><circle cx="531.2" cy="310.69" r="1.55"/><circle cx="531.2" cy="316.70" r="1.55"/></g>
<path d="M56,351 V12 H540 V351 Z" fill="none" stroke="#000" stroke-width="2"/>
<line x1="56" y1="351" x2="56" y2="357" stroke="#000" stroke-width="2"/>
<line x1="191" y1="351" x2="191" y2="357" stroke="#000" stroke-width="2"/>
<line x1="325" y1="351" x2="325" y2="357" stroke="#000" stroke-width="2"/>
<line x1="459.5" y1="351" x2="459.5" y2="357" stroke="#000" stroke-width="2"/>
<text x="33.20" y="384.60" font-size="20" fill="#000" stroke="#000" stroke-width="0.3" textLength="46.06" lengthAdjust="spacingAndGlyphs">4000</text>
<text x="167.20" y="384.60" font-size="20" fill="#000" stroke="#000" stroke-width="0.3" textLength="45.57" lengthAdjust="spacingAndGlyphs">3000</text>
<text x="302.20" y="384.60" font-size="20" fill="#000" stroke="#000" stroke-width="0.3" textLength="46.07" lengthAdjust="spacingAndGlyphs">2000</text>
<text x="437.40" y="384.60" font-size="20" fill="#000" stroke="#000" stroke-width="0.3" textLength="45.06" lengthAdjust="spacingAndGlyphs">1000</text>
<text x="217.00" y="40.00" font-size="18" fill="#000" stroke="#000" stroke-width="0.3" textLength="56.18" lengthAdjust="spacingAndGlyphs">DMC-1</text>
<text x="216.00" y="76.00" font-size="18.7" fill="#9a9a9a" stroke="#9a9a9a" stroke-width="0.3" textLength="71.43" lengthAdjust="spacingAndGlyphs">DMC-Ac</text>
<text x="198.00" y="120.00" font-size="18.7" fill="#ff0000" stroke="#ff0000" stroke-width="0.3" textLength="99.67" lengthAdjust="spacingAndGlyphs">DMC-DMAc</text>
<text x="200.50" y="153.50" font-size="18.7" fill="#007a00" stroke="#007a00" stroke-width="0.3" textLength="88.45" lengthAdjust="spacingAndGlyphs">DMC-DMF</text>
<text x="188.50" y="197.50" font-size="18.7" fill="#0000f5" stroke="#0000f5" stroke-width="0.3" textLength="104.85" lengthAdjust="spacingAndGlyphs">DMC-DMSO</text>
<text x="197.50" y="240.00" font-size="18.7" fill="#6e0a0a" stroke="#6e0a0a" stroke-width="0.3" textLength="88.05" lengthAdjust="spacingAndGlyphs">DMC-NMe</text>
<text x="196.50" y="287.50" font-size="18.7" fill="#0a3a8c" stroke="#0a3a8c" stroke-width="0.3" textLength="90.12" lengthAdjust="spacingAndGlyphs">DMC-NMP</text>
<text x="284.00" y="37.50" font-size="16" fill="#000" stroke="#000" stroke-width="0.3" textLength="33.36" lengthAdjust="spacingAndGlyphs">(CN)</text>
<text x="350.50" y="38.00" font-size="16" fill="#000" stroke="#000" stroke-width="0.3" textLength="57.51" lengthAdjust="spacingAndGlyphs">(H-O-H)</text>
<text x="476.30" y="38.50" font-size="16" fill="#000" stroke="#000" stroke-width="0.3" textLength="64.80" lengthAdjust="spacingAndGlyphs">(Co--CN)</text>
<text x="322.30" y="112.50" font-size="15" fill="#000" stroke="#000" stroke-width="0.3" textLength="44.38" lengthAdjust="spacingAndGlyphs">(C=O)</text>
<text x="330.00" y="192.50" font-size="16" fill="#000" stroke="#000" stroke-width="0.3" textLength="39.09" lengthAdjust="spacingAndGlyphs">C=O)</text>
<text x="418.60" y="328.50" font-size="16" fill="#000" stroke="#000" stroke-width="0.3" textLength="57.17" lengthAdjust="spacingAndGlyphs">(C-O-C)</text>
<text x="203.60" y="428.00" font-size="22" fill="#000" stroke="#000" stroke-width="0.3" textLength="165.18" lengthAdjust="spacingAndGlyphs">Wavelength (cm</text>
<rect x="370.5" y="414.6" width="5.4" height="1.6" fill="#000"/>
<path d="M382.4,421.6 V411 L379.2,413.6" fill="none" stroke="#000" stroke-width="1.6"/>
<text x="386.4" y="428.4" font-size="22" stroke="#000" stroke-width="0.3">)</text>
<text transform="translate(27.9,275.6) rotate(-90)" font-size="22" stroke="#000" stroke-width="0.3" textLength="187.48" lengthAdjust="spacingAndGlyphs">Transmittance (%)</text>
</svg></body></html>
